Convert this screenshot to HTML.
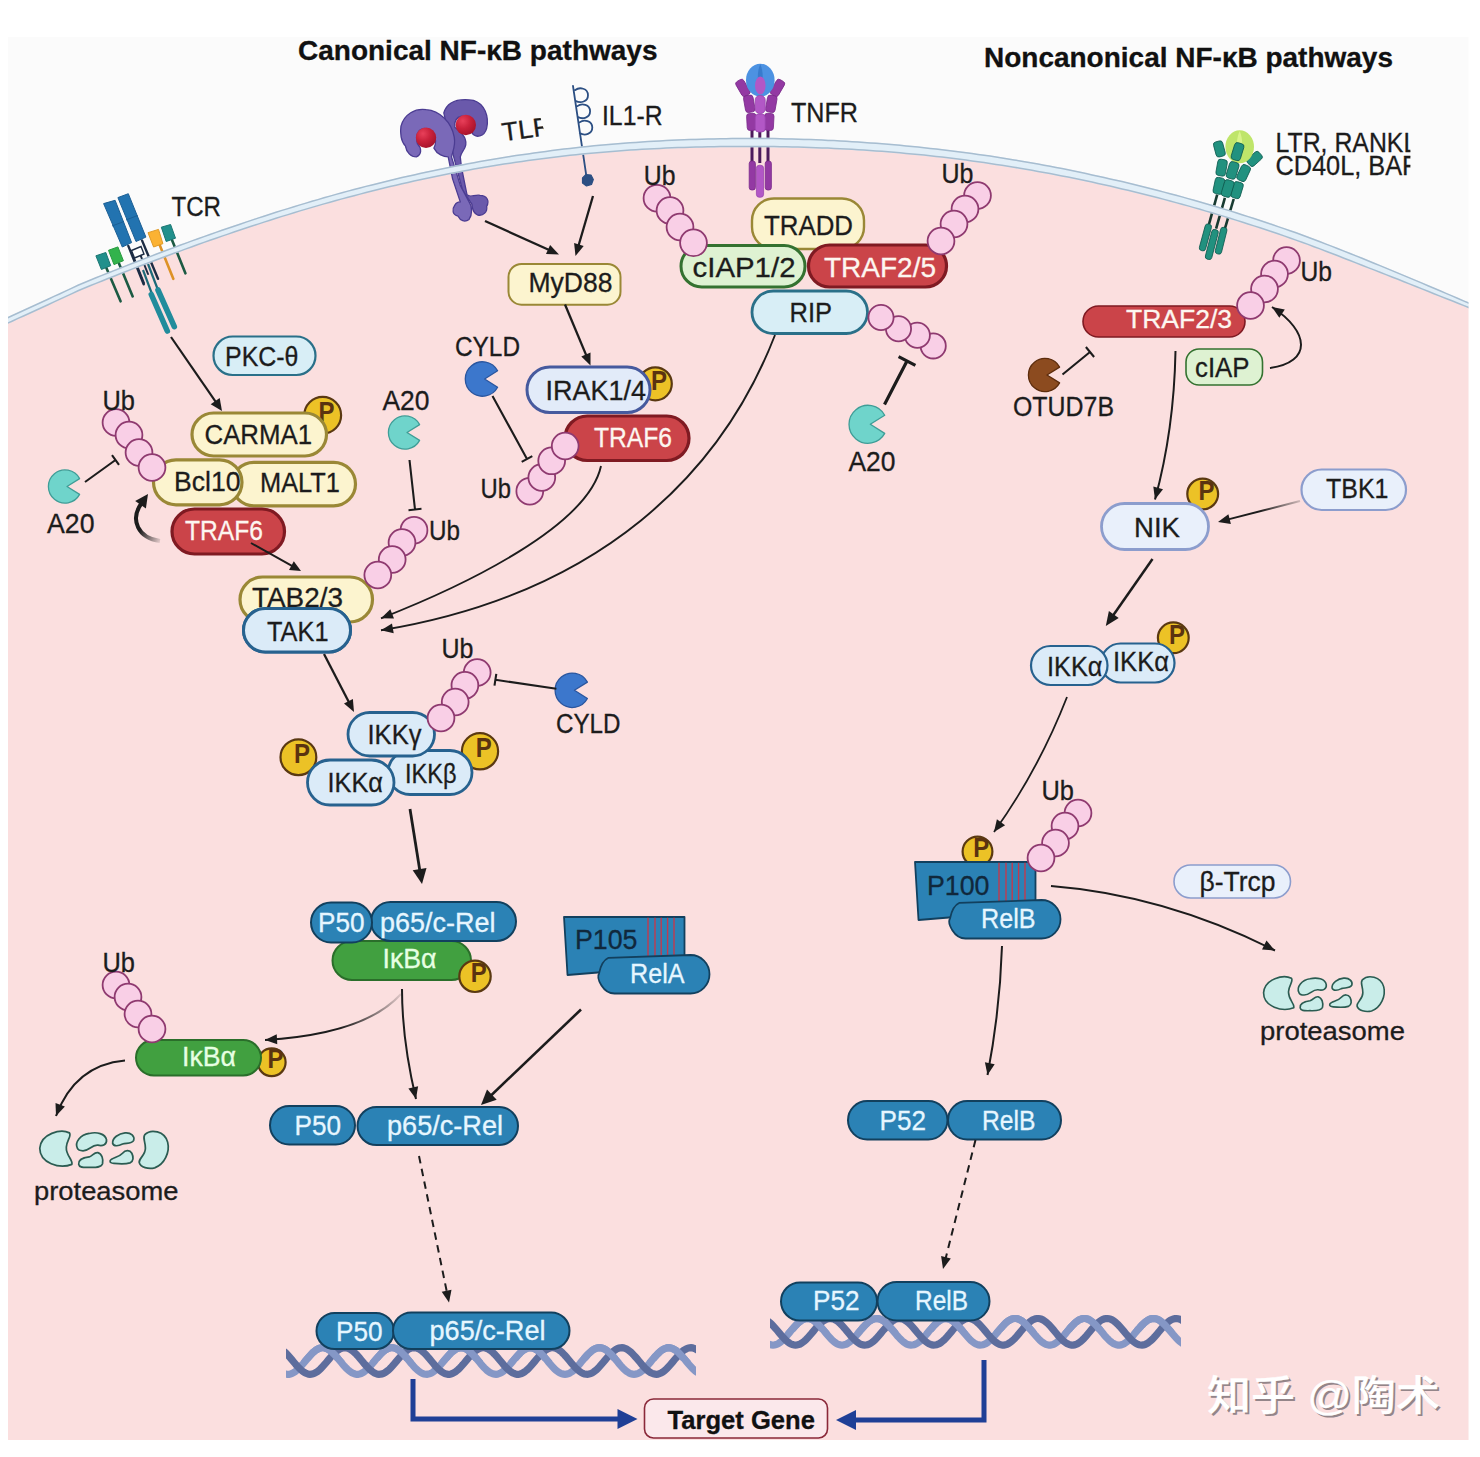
<!DOCTYPE html>
<html lang="en"><head><meta charset="utf-8"><title>NF-κB pathways</title>
<style>
html,body{margin:0;padding:0;background:#fff;}
body{width:1480px;height:1457px;overflow:hidden;}
svg{display:block;font-family:'Liberation Sans', 'Noto Sans CJK SC', sans-serif;}
</style></head><body>
<svg width="1480" height="1457" viewBox="0 0 1480 1457">
<defs>
<clipPath id="fig"><rect x="8" y="37" width="1460.5" height="1403"/></clipPath>
<radialGradient id="redball" cx="0.35" cy="0.3" r="0.75"><stop offset="0" stop-color="#e8405a"/><stop offset="0.5" stop-color="#c9213b"/><stop offset="1" stop-color="#a5122b"/></radialGradient>
<clipPath id="dnaLa"><rect x="286" y="1339.7" width="410" height="42.6"/></clipPath>
<clipPath id="dnaL"><rect x="286" y="1339.7" width="410" height="21.3"/></clipPath>
<clipPath id="dnaRa"><rect x="770" y="1310.5" width="411" height="42.6"/></clipPath>
<clipPath id="dnaR"><rect x="770" y="1310.5" width="411" height="21.3"/></clipPath>
<linearGradient id="fadeL" gradientUnits="userSpaceOnUse" x1="402" y1="992" x2="340" y2="1030"><stop offset="0" stop-color="#1c1c1c" stop-opacity="0.1"/><stop offset="1" stop-color="#1c1c1c"/></linearGradient>
<linearGradient id="fadeT" gradientUnits="userSpaceOnUse" x1="1300" y1="501" x2="1260" y2="511"><stop offset="0" stop-color="#1c1c1c" stop-opacity="0.2"/><stop offset="1" stop-color="#1c1c1c"/></linearGradient>
<linearGradient id="fadeC" gradientUnits="userSpaceOnUse" x1="162" y1="541" x2="140" y2="530"><stop offset="0" stop-color="#1c1c1c" stop-opacity="0.05"/><stop offset="1" stop-color="#1c1c1c"/></linearGradient>
<clipPath id="cTLR"><polygon points="490,100 535.4,100 549.7,150 490,150"/></clipPath>
<clipPath id="cLTR"><rect x="1270" y="120" width="140.4" height="70"/></clipPath>
</defs>
<rect x="8" y="37" width="1460.5" height="1403" fill="#fbfbfb"/>
<g clip-path="url(#fig)">
<path d="M0.0,324.0 L6.0,321.2 L12.0,318.5 L18.0,315.7 L24.0,313.0 L30.0,310.2 L36.0,307.5 L42.0,304.7 L48.0,302.0 L54.0,299.2 L60.0,296.4 L66.0,293.6 L72.0,290.9 L78.0,288.1 L84.0,285.5 L90.0,283.1 L96.0,280.6 L102.0,278.2 L108.0,275.8 L114.0,273.4 L120.0,271.0 L126.0,268.7 L132.0,266.3 L138.0,264.0 L144.0,261.7 L150.0,259.4 L156.0,257.1 L162.0,254.9 L168.0,252.6 L174.0,250.4 L180.0,248.2 L186.0,246.0 L192.0,243.8 L198.0,241.6 L204.0,239.5 L210.0,237.4 L216.0,235.3 L222.0,233.2 L228.0,231.1 L234.0,229.1 L240.0,227.1 L246.0,225.1 L252.0,223.1 L258.0,221.1 L264.0,219.1 L270.0,217.2 L276.0,215.3 L282.0,213.4 L288.0,211.6 L294.0,209.7 L300.0,207.9 L306.0,206.1 L312.0,204.3 L318.0,202.6 L324.0,200.9 L330.0,199.2 L336.0,197.5 L342.0,195.8 L348.0,194.2 L354.0,192.6 L360.0,191.0 L366.0,189.5 L372.0,188.0 L378.0,186.5 L384.0,185.0 L390.0,183.5 L396.0,182.1 L402.0,180.7 L408.0,179.3 L414.0,178.0 L420.0,176.7 L426.0,175.4 L432.0,174.1 L438.0,172.9 L444.0,171.6 L450.0,170.4 L456.0,169.3 L462.0,168.1 L468.0,167.0 L474.0,165.9 L480.0,164.9 L486.0,163.8 L492.0,162.8 L498.0,161.8 L504.0,160.8 L510.0,159.9 L516.0,159.0 L522.0,158.1 L528.0,157.2 L534.0,156.4 L540.0,155.6 L546.0,154.8 L552.0,154.0 L558.0,153.3 L564.0,152.6 L570.0,151.9 L576.0,151.2 L582.0,150.6 L588.0,150.0 L594.0,149.4 L600.0,148.8 L606.0,148.3 L612.0,147.8 L618.0,147.3 L624.0,146.9 L630.0,146.4 L636.0,146.0 L642.0,145.6 L648.0,145.3 L654.0,144.9 L660.0,144.6 L666.0,144.3 L672.0,144.1 L678.0,143.8 L684.0,143.6 L690.0,143.4 L696.0,143.2 L702.0,143.0 L708.0,142.9 L714.0,142.8 L720.0,142.7 L726.0,142.6 L732.0,142.5 L738.0,142.5 L744.0,142.5 L750.0,142.5 L756.0,142.5 L762.0,142.5 L768.0,142.6 L774.0,142.6 L780.0,142.7 L786.0,142.9 L792.0,143.0 L798.0,143.1 L804.0,143.3 L810.0,143.5 L816.0,143.7 L822.0,144.0 L828.0,144.2 L834.0,144.5 L840.0,144.8 L846.0,145.2 L852.0,145.5 L858.0,145.9 L864.0,146.3 L870.0,146.7 L876.0,147.1 L882.0,147.6 L888.0,148.1 L894.0,148.6 L900.0,149.1 L906.0,149.6 L912.0,150.2 L918.0,150.8 L924.0,151.4 L930.0,152.1 L936.0,152.7 L942.0,153.4 L948.0,154.1 L954.0,154.9 L960.0,155.6 L966.0,156.4 L972.0,157.2 L978.0,158.1 L984.0,158.9 L990.0,159.8 L996.0,160.7 L1002.0,161.6 L1008.0,162.6 L1014.0,163.6 L1020.0,164.6 L1026.0,165.6 L1032.0,166.7 L1038.0,167.7 L1044.0,168.8 L1050.0,170.0 L1056.0,171.1 L1062.0,172.3 L1068.0,173.5 L1074.0,174.7 L1080.0,175.9 L1086.0,177.2 L1092.0,178.5 L1098.0,179.8 L1104.0,181.1 L1110.0,182.5 L1116.0,183.9 L1122.0,185.3 L1128.0,186.7 L1134.0,188.1 L1140.0,189.6 L1146.0,191.1 L1152.0,192.6 L1158.0,194.2 L1164.0,195.7 L1170.0,197.3 L1176.0,199.0 L1182.0,200.6 L1188.0,202.3 L1194.0,203.9 L1200.0,205.7 L1206.0,207.4 L1212.0,209.2 L1218.0,210.9 L1224.0,212.8 L1230.0,214.6 L1236.0,216.5 L1242.0,218.3 L1248.0,220.3 L1254.0,222.2 L1260.0,224.2 L1266.0,226.1 L1272.0,228.2 L1278.0,230.2 L1284.0,232.3 L1290.0,234.3 L1296.0,236.4 L1302.0,238.6 L1308.0,240.8 L1314.0,243.1 L1320.0,245.4 L1326.0,247.6 L1332.0,250.0 L1338.0,252.3 L1344.0,254.6 L1350.0,257.0 L1356.0,259.4 L1362.0,261.8 L1368.0,264.1 L1374.0,266.5 L1380.0,268.9 L1386.0,271.3 L1392.0,273.8 L1398.0,276.2 L1404.0,278.6 L1410.0,281.1 L1416.0,283.6 L1422.0,286.0 L1428.0,288.5 L1434.0,291.0 L1440.0,293.4 L1446.0,295.9 L1452.0,298.4 L1458.0,300.9 L1464.0,303.3 L1470.0,305.8 L1476.0,308.3 L1480.0,310.0 L1480,1460 L0,1460 Z" fill="#fbdfdf"/>
<line x1="106.4" y1="267.9" x2="120.6" y2="301.3" stroke="#1c5a43" stroke-width="2.6" stroke-linecap="round"/>
<line x1="119.0" y1="263.5" x2="132.7" y2="296.4" stroke="#1c5a43" stroke-width="2.6" stroke-linecap="round"/>
<line x1="159.6" y1="244.8" x2="173.3" y2="278.8" stroke="#dd9227" stroke-width="2.6" stroke-linecap="round"/>
<line x1="172.2" y1="240.4" x2="185.4" y2="273.3" stroke="#1c5a43" stroke-width="2.6" stroke-linecap="round"/>
<line x1="128.3" y1="245.9" x2="143.7" y2="284.3" stroke="#1d2d45" stroke-width="2.4" stroke-linecap="round"/>
<line x1="142.0" y1="240.4" x2="158.0" y2="278.8" stroke="#1d2d45" stroke-width="2.4" stroke-linecap="round"/>
<line x1="134.0" y1="258.0" x2="144.0" y2="283.0" stroke="#1d2d45" stroke-width="2.0" stroke-linecap="round"/>
<line x1="140.0" y1="254.0" x2="148.0" y2="274.0" stroke="#1d2d45" stroke-width="2.0" stroke-linecap="round"/>
<line x1="143.0" y1="270.0" x2="152.0" y2="294.0" stroke="#1d6a78" stroke-width="2.2" stroke-linecap="butt"/>
<line x1="148.0" y1="264.0" x2="158.0" y2="290.0" stroke="#1d6a78" stroke-width="2.2" stroke-linecap="butt"/>
<polygon points="131.5,250.5 141,246.5 144,254 134.5,258" fill="#fff" stroke="#1d2d45" stroke-width="1.4"/>
<polygon points="103.6,203.6 115.1,200.3 131.6,242.6 122.3,247.0" fill="#2273b0" stroke="#1b5f95" stroke-width="1" stroke-linejoin="round"/>
<polygon points="117.9,197.6 128.3,193.7 145.9,237.1 136.0,241.5" fill="#2273b0" stroke="#1b5f95" stroke-width="1" stroke-linejoin="round"/>
<line x1="112.0" y1="226.0" x2="124.0" y2="221.5" stroke="#1b5f95" stroke-width="1" stroke-linecap="butt"/>
<line x1="126.0" y1="220.0" x2="137.5" y2="215.5" stroke="#1b5f95" stroke-width="1" stroke-linecap="butt"/>
<polygon points="148.0,232.7 158.5,229.4 162.9,243.7 153.6,247.0" fill="#fbb233" stroke="#e09a25" stroke-width="1" stroke-linejoin="round"/>
<polygon points="161.3,227.2 170.6,224.5 175.5,238.2 166.2,241.5" fill="#21908c" stroke="#1a7672" stroke-width="1" stroke-linejoin="round"/>
<polygon points="95.9,255.8 105.8,252.5 110.7,265.7 101.4,269.5" fill="#21908c" stroke="#1a7672" stroke-width="1" stroke-linejoin="round"/>
<polygon points="108.5,250.3 117.9,246.9 123.4,260.7 114.0,264.6" fill="#32b34c" stroke="#289a3f" stroke-width="1" stroke-linejoin="round"/>
<line x1="151.3" y1="294.5" x2="167.3" y2="331.0" stroke="#218c9c" stroke-width="5.6" stroke-linecap="round"/>
<line x1="158.0" y1="290.0" x2="174.3" y2="326.6" stroke="#218c9c" stroke-width="5.6" stroke-linecap="round"/>
<g transform="translate(390,80) scale(0.10982)" stroke="#4b3c92" stroke-width="12" stroke-linejoin="round">
<path d="M490,300 C520,200 620,165 760,185 C860,215 905,330 880,440 C860,515 780,535 745,480 C770,400 730,330 650,330 C600,340 585,380 590,430 C640,470 700,520 690,590 C680,640 650,650 640,700 L650,790 L700,1040 C720,1080 770,1040 820,1050 C880,1050 910,1100 880,1150 C890,1200 850,1240 800,1230 C770,1220 750,1180 745,1130 L660,1000 L580,700 Z" fill="#6a59ab"/>
<path d="M100,420 C130,310 230,255 330,270 C450,280 560,380 585,520 C600,600 570,650 560,700 L640,960 L720,1110 C750,1150 750,1230 720,1270 C680,1300 640,1280 620,1240 C570,1230 560,1180 590,1140 C600,1120 620,1110 640,1110 L570,900 L530,700 C490,700 430,680 400,620 C440,540 390,440 310,440 C250,450 230,510 250,580 C290,620 290,680 240,700 C190,700 150,660 140,600 C100,560 90,480 100,420 Z" fill="#7a69b8"/>
</g>
<circle cx="426" cy="137.7" r="10.2" fill="url(#redball)"/>
<circle cx="465.8" cy="125" r="10.2" fill="url(#redball)"/>
<path d="M573,86 L586.5,177 M575.3,90.0 C579.5,86.7 588.0,88.2 588.0,95.2 C588.0,101.7 580.5,103.7 575.5,100.7 M577.4,106.1 C581.6,102.8 590.1,104.3 590.1,111.3 C590.1,117.8 582.6,119.8 577.6,116.8 M579.6,122.4 C583.8,119.1 592.3,120.6 592.3,127.6 C592.3,134.1 584.8,136.1 579.8,133.1" stroke="#2c4f83" stroke-width="1.8" fill="none" stroke-linecap="round"/>
<path d="M582.5,178 L586,174.5 L591,175 L593.3,179.5 L591.5,184.5 L586.5,186 L582.5,183 Z" fill="#2c4f83" stroke="#2c4f83" stroke-width="1.2" stroke-linejoin="round"/>
<line x1="752.0" y1="130.0" x2="752.0" y2="163.0" stroke="#4c1b5c" stroke-width="3.0" stroke-linecap="butt"/>
<line x1="759.8" y1="130.0" x2="759.8" y2="163.0" stroke="#4c1b5c" stroke-width="3.0" stroke-linecap="butt"/>
<line x1="768.0" y1="130.0" x2="768.0" y2="163.0" stroke="#4c1b5c" stroke-width="3.0" stroke-linecap="butt"/>
<rect x="738.4" y="79.4" width="9.0" height="17.0" rx="2.7" fill="#9339a3" stroke="#7a2a8a" stroke-width="0.8" transform="rotate(-30 742.9 87.9)"/>
<rect x="773.0" y="79.4" width="9.0" height="17.0" rx="2.7" fill="#9339a3" stroke="#7a2a8a" stroke-width="0.8" transform="rotate(30 777.5 87.9)"/>
<ellipse cx="760.3" cy="80.2" rx="14.3" ry="16.5" fill="#4c92e2"/>
<path d="M760.3,64 C757,72 757,80 760.3,86 C763.5,80 763.5,72 760.3,64" fill="#2f72c4" opacity="0.7"/>
<ellipse cx="760.3" cy="85.5" rx="5.3" ry="9" fill="#b257c6"/>
<rect x="744.5" y="95.3" width="9.6" height="17.0" rx="2.9" fill="#9339a3" stroke="#7a2a8a" stroke-width="0.8" transform="rotate(-10 749.3 103.8)"/>
<rect x="766.5" y="95.3" width="9.6" height="17.0" rx="2.9" fill="#9339a3" stroke="#7a2a8a" stroke-width="0.8" transform="rotate(10 771.3 103.8)"/>
<rect x="755.2" y="95.5" width="10.0" height="18.0" rx="4.5" fill="#b257c6" stroke="#9a45ae" stroke-width="0.8" transform="rotate(0 760.2 104.5)"/>
<rect x="746.9" y="113.4" width="9.4" height="17.0" rx="2.8" fill="#9339a3" stroke="#7a2a8a" stroke-width="0.8" transform="rotate(-3 751.6 121.9)"/>
<rect x="764.3" y="113.4" width="9.4" height="17.0" rx="2.8" fill="#9339a3" stroke="#7a2a8a" stroke-width="0.8" transform="rotate(3 769.0 121.9)"/>
<rect x="755.2" y="114.0" width="10.0" height="18.0" rx="3.5" fill="#b257c6" stroke="#9a45ae" stroke-width="0.8" transform="rotate(0 760.2 123.0)"/>
<rect x="749.2" y="161.0" width="6.2" height="29.0" rx="2.6" fill="#9339a3" stroke="#7a2a8a" stroke-width="0.8" transform="rotate(0 752.3 175.5)"/>
<rect x="765.2" y="161.0" width="6.2" height="29.0" rx="2.6" fill="#9339a3" stroke="#7a2a8a" stroke-width="0.8" transform="rotate(0 768.3 175.5)"/>
<rect x="756.4" y="165.3" width="7.2" height="32.0" rx="3.0" fill="#b257c6" stroke="#9a45ae" stroke-width="0.8" transform="rotate(0 760.0 181.3)"/>
<line x1="1217.2" y1="194.6" x2="1209.0" y2="224.2" stroke="#183a31" stroke-width="2.6" stroke-linecap="butt"/>
<line x1="1224.9" y1="197.9" x2="1216.1" y2="228.6" stroke="#183a31" stroke-width="2.6" stroke-linecap="butt"/>
<line x1="1233.7" y1="199.0" x2="1224.9" y2="228.6" stroke="#183a31" stroke-width="2.6" stroke-linecap="butt"/>
<rect x="1214.7" y="141.2" width="9.4" height="15.5" rx="2.8" fill="#21917f" stroke="#0f5c50" stroke-width="0.8" transform="rotate(-15 1219.4 149.0)"/>
<rect x="1249.9" y="151.2" width="9.4" height="15.5" rx="2.8" fill="#21917f" stroke="#0f5c50" stroke-width="0.8" transform="rotate(48 1254.6 158.9)"/>
<ellipse cx="1239.7" cy="146.8" rx="14.3" ry="16.5" fill="#bfe56a"/>
<path d="M1239.7,131 C1236,139 1236,148 1239.7,155 C1243,148 1243,139 1239.7,131" fill="#dcf58e" opacity="0.9"/>
<rect x="1232.7" y="142.9" width="9.6" height="17.5" rx="2.9" fill="#21917f" stroke="#0f5c50" stroke-width="0.8" transform="rotate(17 1237.5 151.7)"/>
<rect x="1216.8" y="159.4" width="9.6" height="16.5" rx="2.9" fill="#21917f" stroke="#0f5c50" stroke-width="0.8" transform="rotate(10 1221.6 167.7)"/>
<rect x="1238.8" y="164.8" width="9.6" height="16.5" rx="2.9" fill="#21917f" stroke="#0f5c50" stroke-width="0.8" transform="rotate(25 1243.6 173.1)"/>
<rect x="1227.7" y="161.9" width="9.8" height="17.0" rx="2.9" fill="#21917f" stroke="#0f5c50" stroke-width="0.8" transform="rotate(17 1232.6 170.4)"/>
<rect x="1214.1" y="177.6" width="9.6" height="16.5" rx="2.9" fill="#21917f" stroke="#0f5c50" stroke-width="0.8" transform="rotate(12 1218.9 185.8)"/>
<rect x="1232.2" y="181.9" width="9.6" height="16.5" rx="2.9" fill="#21917f" stroke="#0f5c50" stroke-width="0.8" transform="rotate(17 1237.0 190.2)"/>
<rect x="1222.8" y="180.0" width="9.8" height="17.0" rx="2.9" fill="#21917f" stroke="#0f5c50" stroke-width="0.8" transform="rotate(17 1227.7 188.5)"/>
<rect x="1202.2" y="223.7" width="6.4" height="27.4" rx="2.6" fill="#21917f" stroke="#0f5c50" stroke-width="0.8" transform="rotate(15.255118703057875 1205.4 237.4)"/>
<rect x="1217.9" y="227.1" width="6.4" height="27.2" rx="2.6" fill="#21917f" stroke="#0f5c50" stroke-width="0.8" transform="rotate(14.036243467926766 1221.1 240.7)"/>
<rect x="1208.5" y="229.2" width="6.6" height="30.6" rx="2.6" fill="#21917f" stroke="#0f5c50" stroke-width="0.8" transform="rotate(14.581468369319595 1211.8 244.5)"/>
<path d="M0.0,320.8 L6.0,318.0 L12.0,315.3 L18.0,312.5 L24.0,309.8 L30.0,307.0 L36.0,304.3 L42.0,301.5 L48.0,298.7 L54.0,295.9 L60.0,293.1 L66.0,290.4 L72.0,287.6 L78.0,284.8 L84.0,282.2 L90.0,279.8 L96.0,277.3 L102.0,274.9 L108.0,272.4 L114.0,270.1 L120.0,267.7 L126.0,265.3 L132.0,263.0 L138.0,260.7 L144.0,258.3 L150.0,256.0 L156.0,253.8 L162.0,251.5 L168.0,249.2 L174.0,247.0 L180.0,244.8 L186.0,242.6 L192.0,240.4 L198.0,238.2 L204.0,236.1 L210.0,233.9 L216.0,231.8 L222.0,229.7 L228.0,227.7 L234.0,225.6 L240.0,223.6 L246.0,221.6 L252.0,219.6 L258.0,217.6 L264.0,215.6 L270.0,213.7 L276.0,211.8 L282.0,209.9 L288.0,208.0 L294.0,206.2 L300.0,204.4 L306.0,202.5 L312.0,200.8 L318.0,199.0 L324.0,197.3 L330.0,195.5 L336.0,193.9 L342.0,192.2 L348.0,190.6 L354.0,189.0 L360.0,187.4 L366.0,185.8 L372.0,184.3 L378.0,182.8 L384.0,181.3 L390.0,179.8 L396.0,178.4 L402.0,177.0 L408.0,175.6 L414.0,174.3 L420.0,172.9 L426.0,171.6 L432.0,170.4 L438.0,169.1 L444.0,167.9 L450.0,166.7 L456.0,165.5 L462.0,164.3 L468.0,163.2 L474.0,162.1 L480.0,161.0 L486.0,160.0 L492.0,158.9 L498.0,157.9 L504.0,156.9 L510.0,156.0 L516.0,155.0 L522.0,154.1 L528.0,153.2 L534.0,152.4 L540.0,151.5 L546.0,150.7 L552.0,149.9 L558.0,149.2 L564.0,148.4 L570.0,147.7 L576.0,147.1 L582.0,146.4 L588.0,145.8 L594.0,145.2 L600.0,144.6 L606.0,144.0 L612.0,143.5 L618.0,143.0 L624.0,142.5 L630.0,142.1 L636.0,141.7 L642.0,141.3 L648.0,140.9 L654.0,140.5 L660.0,140.2 L666.0,139.9 L672.0,139.6 L678.0,139.3 L684.0,139.1 L690.0,138.8 L696.0,138.6 L702.0,138.4 L708.0,138.3 L714.0,138.1 L720.0,138.0 L726.0,137.9 L732.0,137.8 L738.0,137.8 L744.0,137.7 L750.0,137.7 L756.0,137.7 L762.0,137.7 L768.0,137.8 L774.0,137.9 L780.0,138.0 L786.0,138.1 L792.0,138.3 L798.0,138.4 L804.0,138.6 L810.0,138.8 L816.0,139.1 L822.0,139.3 L828.0,139.6 L834.0,139.9 L840.0,140.2 L846.0,140.6 L852.0,140.9 L858.0,141.3 L864.0,141.7 L870.0,142.2 L876.0,142.6 L882.0,143.1 L888.0,143.6 L894.0,144.1 L900.0,144.6 L906.0,145.2 L912.0,145.8 L918.0,146.4 L924.0,147.0 L930.0,147.7 L936.0,148.3 L942.0,149.0 L948.0,149.8 L954.0,150.5 L960.0,151.3 L966.0,152.1 L972.0,152.9 L978.0,153.7 L984.0,154.6 L990.0,155.4 L996.0,156.4 L1002.0,157.3 L1008.0,158.2 L1014.0,159.2 L1020.0,160.2 L1026.0,161.3 L1032.0,162.3 L1038.0,163.4 L1044.0,164.5 L1050.0,165.6 L1056.0,166.8 L1062.0,167.9 L1068.0,169.1 L1074.0,170.4 L1080.0,171.6 L1086.0,172.9 L1092.0,174.2 L1098.0,175.5 L1104.0,176.8 L1110.0,178.2 L1116.0,179.5 L1122.0,180.9 L1128.0,182.4 L1134.0,183.8 L1140.0,185.3 L1146.0,186.8 L1152.0,188.3 L1158.0,189.8 L1164.0,191.4 L1170.0,193.0 L1176.0,194.6 L1182.0,196.2 L1188.0,197.9 L1194.0,199.6 L1200.0,201.3 L1206.0,203.0 L1212.0,204.8 L1218.0,206.6 L1224.0,208.4 L1230.0,210.2 L1236.0,212.1 L1242.0,214.0 L1248.0,215.9 L1254.0,217.8 L1260.0,219.8 L1266.0,221.8 L1272.0,223.8 L1278.0,225.9 L1284.0,227.9 L1290.0,230.0 L1296.0,232.1 L1302.0,234.3 L1308.0,236.6 L1314.0,238.8 L1320.0,241.1 L1326.0,243.4 L1332.0,245.7 L1338.0,248.1 L1344.0,250.5 L1350.0,252.8 L1356.0,255.2 L1362.0,257.6 L1368.0,260.1 L1374.0,262.5 L1380.0,265.0 L1386.0,267.5 L1392.0,270.0 L1398.0,272.5 L1404.0,275.0 L1410.0,277.5 L1416.0,280.0 L1422.0,282.6 L1428.0,285.1 L1434.0,287.7 L1440.0,290.3 L1446.0,292.9 L1452.0,295.5 L1458.0,298.1 L1464.0,300.6 L1470.0,303.2 L1476.0,305.8 L1480.0,307.5 L1480.0,312.5 L1476.0,310.9 L1470.0,308.4 L1464.0,306.1 L1458.0,303.7 L1452.0,301.3 L1446.0,298.9 L1440.0,296.6 L1434.0,294.2 L1428.0,291.8 L1422.0,289.5 L1416.0,287.1 L1410.0,284.7 L1404.0,282.3 L1398.0,279.9 L1392.0,277.6 L1386.0,275.2 L1380.0,272.9 L1374.0,270.5 L1368.0,268.2 L1362.0,265.9 L1356.0,263.5 L1350.0,261.2 L1344.0,258.8 L1338.0,256.5 L1332.0,254.2 L1326.0,251.9 L1320.0,249.6 L1314.0,247.3 L1308.0,245.1 L1302.0,242.9 L1296.0,240.7 L1290.0,238.6 L1284.0,236.6 L1278.0,234.5 L1272.0,232.5 L1266.0,230.5 L1260.0,228.5 L1254.0,226.6 L1248.0,224.7 L1242.0,222.7 L1236.0,220.9 L1230.0,219.0 L1224.0,217.1 L1218.0,215.3 L1212.0,213.5 L1206.0,211.8 L1200.0,210.0 L1194.0,208.3 L1188.0,206.6 L1182.0,205.0 L1176.0,203.3 L1170.0,201.7 L1164.0,200.1 L1158.0,198.5 L1152.0,197.0 L1146.0,195.4 L1140.0,193.9 L1134.0,192.5 L1128.0,191.0 L1122.0,189.6 L1116.0,188.2 L1110.0,186.8 L1104.0,185.4 L1098.0,184.1 L1092.0,182.8 L1086.0,181.5 L1080.0,180.2 L1074.0,179.0 L1068.0,177.8 L1062.0,176.6 L1056.0,175.4 L1050.0,174.3 L1044.0,173.2 L1038.0,172.1 L1032.0,171.0 L1026.0,169.9 L1020.0,168.9 L1014.0,167.9 L1008.0,167.0 L1002.0,166.0 L996.0,165.1 L990.0,164.2 L984.0,163.3 L978.0,162.4 L972.0,161.6 L966.0,160.8 L960.0,160.0 L954.0,159.3 L948.0,158.5 L942.0,157.8 L936.0,157.1 L930.0,156.5 L924.0,155.8 L918.0,155.2 L912.0,154.6 L906.0,154.1 L900.0,153.5 L894.0,153.0 L888.0,152.5 L882.0,152.1 L876.0,151.6 L870.0,151.2 L864.0,150.8 L858.0,150.4 L852.0,150.1 L846.0,149.7 L840.0,149.4 L834.0,149.1 L828.0,148.9 L822.0,148.6 L816.0,148.4 L810.0,148.2 L804.0,148.0 L798.0,147.8 L792.0,147.7 L786.0,147.6 L780.0,147.5 L774.0,147.4 L768.0,147.3 L762.0,147.3 L756.0,147.3 L750.0,147.2 L744.0,147.2 L738.0,147.2 L732.0,147.2 L726.0,147.3 L720.0,147.3 L714.0,147.4 L708.0,147.5 L702.0,147.6 L696.0,147.8 L690.0,147.9 L684.0,148.1 L678.0,148.3 L672.0,148.6 L666.0,148.8 L660.0,149.1 L654.0,149.4 L648.0,149.7 L642.0,150.0 L636.0,150.4 L630.0,150.8 L624.0,151.2 L618.0,151.6 L612.0,152.1 L606.0,152.6 L600.0,153.1 L594.0,153.6 L588.0,154.2 L582.0,154.7 L576.0,155.4 L570.0,156.0 L564.0,156.7 L558.0,157.4 L552.0,158.1 L546.0,158.8 L540.0,159.6 L534.0,160.4 L528.0,161.2 L522.0,162.0 L516.0,162.9 L510.0,163.8 L504.0,164.7 L498.0,165.7 L492.0,166.7 L486.0,167.7 L480.0,168.7 L474.0,169.7 L468.0,170.8 L462.0,171.9 L456.0,173.1 L450.0,174.2 L444.0,175.4 L438.0,176.6 L432.0,177.9 L426.0,179.1 L420.0,180.4 L414.0,181.7 L408.0,183.1 L402.0,184.4 L396.0,185.8 L390.0,187.2 L384.0,188.7 L378.0,190.1 L372.0,191.6 L366.0,193.1 L360.0,194.7 L354.0,196.3 L348.0,197.8 L342.0,199.5 L336.0,201.1 L330.0,202.8 L324.0,204.5 L318.0,206.2 L312.0,207.9 L306.0,209.7 L300.0,211.5 L294.0,213.3 L288.0,215.1 L282.0,217.0 L276.0,218.9 L270.0,220.8 L264.0,222.7 L258.0,224.6 L252.0,226.6 L246.0,228.6 L240.0,230.6 L234.0,232.6 L228.0,234.6 L222.0,236.7 L216.0,238.7 L210.0,240.8 L204.0,243.0 L198.0,245.1 L192.0,247.2 L186.0,249.4 L180.0,251.6 L174.0,253.8 L168.0,256.0 L162.0,258.3 L156.0,260.5 L150.0,262.8 L144.0,265.1 L138.0,267.4 L132.0,269.7 L126.0,272.0 L120.0,274.4 L114.0,276.7 L108.0,279.1 L102.0,281.5 L96.0,283.9 L90.0,286.4 L84.0,288.8 L78.0,291.4 L72.0,294.1 L66.0,296.9 L60.0,299.7 L54.0,302.4 L48.0,305.2 L42.0,308.0 L36.0,310.7 L30.0,313.5 L24.0,316.2 L18.0,319.0 L12.0,321.7 L6.0,324.4 L0.0,327.2 Z" fill="#e2eff8"/>
<path d="M0.0,321.3 L6.0,318.5 L12.0,315.8 L18.0,313.0 L24.0,310.3 L30.0,307.5 L36.0,304.8 L42.0,302.0 L48.0,299.2 L54.0,296.4 L60.0,293.7 L66.0,290.9 L72.0,288.1 L78.0,285.3 L84.0,282.8 L90.0,280.3 L96.0,277.8 L102.0,275.4 L108.0,273.0 L114.0,270.6 L120.0,268.2 L126.0,265.9 L132.0,263.5 L138.0,261.2 L144.0,258.9 L150.0,256.6 L156.0,254.3 L162.0,252.0 L168.0,249.8 L174.0,247.6 L180.0,245.3 L186.0,243.1 L192.0,240.9 L198.0,238.8 L204.0,236.6 L210.0,234.5 L216.0,232.4 L222.0,230.3 L228.0,228.2 L234.0,226.2 L240.0,224.2 L246.0,222.1 L252.0,220.1 L258.0,218.1 L264.0,216.2 L270.0,214.2 L276.0,212.3 L282.0,210.4 L288.0,208.6 L294.0,206.7 L300.0,204.9 L306.0,203.1 L312.0,201.3 L318.0,199.6 L324.0,197.8 L330.0,196.1 L336.0,194.4 L342.0,192.8 L348.0,191.1 L354.0,189.5 L360.0,188.0 L366.0,186.4 L372.0,184.9 L378.0,183.4 L384.0,181.9 L390.0,180.4 L396.0,179.0 L402.0,177.6 L408.0,176.2 L414.0,174.9 L420.0,173.5 L426.0,172.2 L432.0,171.0 L438.0,169.7 L444.0,168.5 L450.0,167.3 L456.0,166.1 L462.0,164.9 L468.0,163.8 L474.0,162.7 L480.0,161.6 L486.0,160.6 L492.0,159.5 L498.0,158.5 L504.0,157.5 L510.0,156.6 L516.0,155.6 L522.0,154.7 L528.0,153.9 L534.0,153.0 L540.0,152.2 L546.0,151.4 L552.0,150.6 L558.0,149.8 L564.0,149.1 L570.0,148.4 L576.0,147.7 L582.0,147.1 L588.0,146.4 L594.0,145.8 L600.0,145.3 L606.0,144.7 L612.0,144.2 L618.0,143.7 L624.0,143.2 L630.0,142.8 L636.0,142.4 L642.0,142.0 L648.0,141.6 L654.0,141.2 L660.0,140.9 L666.0,140.6 L672.0,140.3 L678.0,140.0 L684.0,139.8 L690.0,139.6 L696.0,139.4 L702.0,139.2 L708.0,139.0 L714.0,138.9 L720.0,138.8 L726.0,138.7 L732.0,138.6 L738.0,138.5 L744.0,138.5 L750.0,138.5 L756.0,138.5 L762.0,138.5 L768.0,138.5 L774.0,138.6 L780.0,138.7 L786.0,138.9 L792.0,139.0 L798.0,139.2 L804.0,139.4 L810.0,139.6 L816.0,139.8 L822.0,140.1 L828.0,140.4 L834.0,140.6 L840.0,141.0 L846.0,141.3 L852.0,141.7 L858.0,142.0 L864.0,142.4 L870.0,142.9 L876.0,143.3 L882.0,143.8 L888.0,144.3 L894.0,144.8 L900.0,145.3 L906.0,145.9 L912.0,146.5 L918.0,147.1 L924.0,147.7 L930.0,148.4 L936.0,149.0 L942.0,149.7 L948.0,150.5 L954.0,151.2 L960.0,152.0 L966.0,152.8 L972.0,153.6 L978.0,154.4 L984.0,155.3 L990.0,156.1 L996.0,157.1 L1002.0,158.0 L1008.0,158.9 L1014.0,159.9 L1020.0,160.9 L1026.0,162.0 L1032.0,163.0 L1038.0,164.1 L1044.0,165.2 L1050.0,166.3 L1056.0,167.5 L1062.0,168.6 L1068.0,169.8 L1074.0,171.1 L1080.0,172.3 L1086.0,173.6 L1092.0,174.9 L1098.0,176.2 L1104.0,177.5 L1110.0,178.9 L1116.0,180.2 L1122.0,181.6 L1128.0,183.1 L1134.0,184.5 L1140.0,186.0 L1146.0,187.5 L1152.0,189.0 L1158.0,190.5 L1164.0,192.1 L1170.0,193.7 L1176.0,195.3 L1182.0,196.9 L1188.0,198.6 L1194.0,200.3 L1200.0,202.0 L1206.0,203.7 L1212.0,205.5 L1218.0,207.3 L1224.0,209.1 L1230.0,210.9 L1236.0,212.8 L1242.0,214.7 L1248.0,216.6 L1254.0,218.5 L1260.0,220.5 L1266.0,222.5 L1272.0,224.5 L1278.0,226.6 L1284.0,228.6 L1290.0,230.7 L1296.0,232.8 L1302.0,235.0 L1308.0,237.2 L1314.0,239.5 L1320.0,241.8 L1326.0,244.1 L1332.0,246.4 L1338.0,248.8 L1344.0,251.1 L1350.0,253.5 L1356.0,255.9 L1362.0,258.3 L1368.0,260.7 L1374.0,263.2 L1380.0,265.6 L1386.0,268.1 L1392.0,270.6 L1398.0,273.1 L1404.0,275.6 L1410.0,278.1 L1416.0,280.6 L1422.0,283.1 L1428.0,285.7 L1434.0,288.2 L1440.0,290.8 L1446.0,293.4 L1452.0,295.9 L1458.0,298.5 L1464.0,301.1 L1470.0,303.6 L1476.0,306.2 L1480.0,307.9" stroke="#a7bdd0" stroke-width="1.5" fill="none"/>
<path d="M0.0,326.7 L6.0,323.9 L12.0,321.2 L18.0,318.4 L24.0,315.7 L30.0,313.0 L36.0,310.2 L42.0,307.5 L48.0,304.7 L54.0,301.9 L60.0,299.1 L66.0,296.4 L72.0,293.6 L78.0,290.8 L84.0,288.3 L90.0,285.8 L96.0,283.4 L102.0,281.0 L108.0,278.5 L114.0,276.2 L120.0,273.8 L126.0,271.5 L132.0,269.1 L138.0,266.8 L144.0,264.5 L150.0,262.3 L156.0,260.0 L162.0,257.7 L168.0,255.5 L174.0,253.3 L180.0,251.1 L186.0,248.9 L192.0,246.7 L198.0,244.5 L204.0,242.4 L210.0,240.3 L216.0,238.2 L222.0,236.1 L228.0,234.1 L234.0,232.0 L240.0,230.0 L246.0,228.0 L252.0,226.0 L258.0,224.1 L264.0,222.1 L270.0,220.2 L276.0,218.3 L282.0,216.4 L288.0,214.6 L294.0,212.7 L300.0,210.9 L306.0,209.1 L312.0,207.4 L318.0,205.6 L324.0,203.9 L330.0,202.2 L336.0,200.5 L342.0,198.9 L348.0,197.3 L354.0,195.7 L360.0,194.1 L366.0,192.6 L372.0,191.0 L378.0,189.5 L384.0,188.1 L390.0,186.6 L396.0,185.2 L402.0,183.8 L408.0,182.5 L414.0,181.1 L420.0,179.8 L426.0,178.5 L432.0,177.3 L438.0,176.0 L444.0,174.8 L450.0,173.6 L456.0,172.5 L462.0,171.3 L468.0,170.2 L474.0,169.1 L480.0,168.1 L486.0,167.0 L492.0,166.0 L498.0,165.1 L504.0,164.1 L510.0,163.2 L516.0,162.3 L522.0,161.4 L528.0,160.6 L534.0,159.7 L540.0,158.9 L546.0,158.2 L552.0,157.4 L558.0,156.7 L564.0,156.0 L570.0,155.3 L576.0,154.7 L582.0,154.1 L588.0,153.5 L594.0,152.9 L600.0,152.4 L606.0,151.9 L612.0,151.4 L618.0,150.9 L624.0,150.5 L630.0,150.1 L636.0,149.7 L642.0,149.3 L648.0,149.0 L654.0,148.7 L660.0,148.4 L666.0,148.1 L672.0,147.8 L678.0,147.6 L684.0,147.4 L690.0,147.2 L696.0,147.0 L702.0,146.9 L708.0,146.8 L714.0,146.7 L720.0,146.6 L726.0,146.5 L732.0,146.5 L738.0,146.4 L744.0,146.4 L750.0,146.5 L756.0,146.5 L762.0,146.5 L768.0,146.6 L774.0,146.6 L780.0,146.7 L786.0,146.8 L792.0,147.0 L798.0,147.1 L804.0,147.3 L810.0,147.4 L816.0,147.7 L822.0,147.9 L828.0,148.1 L834.0,148.4 L840.0,148.7 L846.0,149.0 L852.0,149.3 L858.0,149.7 L864.0,150.1 L870.0,150.5 L876.0,150.9 L882.0,151.3 L888.0,151.8 L894.0,152.3 L900.0,152.8 L906.0,153.4 L912.0,153.9 L918.0,154.5 L924.0,155.1 L930.0,155.8 L936.0,156.4 L942.0,157.1 L948.0,157.8 L954.0,158.6 L960.0,159.3 L966.0,160.1 L972.0,160.9 L978.0,161.7 L984.0,162.6 L990.0,163.5 L996.0,164.4 L1002.0,165.3 L1008.0,166.3 L1014.0,167.2 L1020.0,168.2 L1026.0,169.3 L1032.0,170.3 L1038.0,171.4 L1044.0,172.5 L1050.0,173.6 L1056.0,174.7 L1062.0,175.9 L1068.0,177.1 L1074.0,178.3 L1080.0,179.5 L1086.0,180.8 L1092.0,182.1 L1098.0,183.4 L1104.0,184.7 L1110.0,186.1 L1116.0,187.5 L1122.0,188.9 L1128.0,190.3 L1134.0,191.8 L1140.0,193.3 L1146.0,194.8 L1152.0,196.3 L1158.0,197.8 L1164.0,199.4 L1170.0,201.0 L1176.0,202.6 L1182.0,204.3 L1188.0,205.9 L1194.0,207.6 L1200.0,209.3 L1206.0,211.1 L1212.0,212.8 L1218.0,214.6 L1224.0,216.4 L1230.0,218.3 L1236.0,220.1 L1242.0,222.0 L1248.0,224.0 L1254.0,225.9 L1260.0,227.8 L1266.0,229.8 L1272.0,231.8 L1278.0,233.8 L1284.0,235.9 L1290.0,238.0 L1296.0,240.1 L1302.0,242.2 L1308.0,244.4 L1314.0,246.7 L1320.0,248.9 L1326.0,251.2 L1332.0,253.5 L1338.0,255.8 L1344.0,258.2 L1350.0,260.5 L1356.0,262.9 L1362.0,265.2 L1368.0,267.6 L1374.0,269.9 L1380.0,272.2 L1386.0,274.6 L1392.0,277.0 L1398.0,279.3 L1404.0,281.7 L1410.0,284.1 L1416.0,286.5 L1422.0,288.9 L1428.0,291.3 L1434.0,293.7 L1440.0,296.1 L1446.0,298.5 L1452.0,300.8 L1458.0,303.2 L1464.0,305.6 L1470.0,308.0 L1476.0,310.4 L1480.0,312.1" stroke="#a7bdd0" stroke-width="1.5" fill="none"/>
<g clip-path="url(#dnaLa)" fill="none" stroke-width="7.2">
<path d="M280.0,1370.9 L281.5,1372.0 L283.0,1372.9 L284.5,1373.6 L286.0,1374.1 L287.5,1374.3 L289.0,1374.3 L290.5,1374.0 L292.0,1373.5 L293.5,1372.7 L295.0,1371.8 L296.5,1370.6 L298.0,1369.3 L299.5,1367.8 L301.0,1366.2 L302.5,1364.5 L304.0,1362.7 L305.5,1360.9 L307.0,1359.1 L308.5,1357.3 L310.0,1355.6 L311.5,1354.0 L313.0,1352.5 L314.5,1351.2 L316.0,1350.1 L317.5,1349.2 L319.0,1348.4 L320.5,1348.0 L322.0,1347.7 L323.5,1347.7 L325.0,1348.0 L326.5,1348.5 L328.0,1349.2 L329.5,1350.2 L331.0,1351.3 L332.5,1352.6 L334.0,1354.1 L335.5,1355.7 L337.0,1357.4 L338.5,1359.2 L340.0,1361.0 L341.5,1362.8 L343.0,1364.6 L344.5,1366.3 L346.0,1367.9 L347.5,1369.4 L349.0,1370.7 L350.5,1371.8 L352.0,1372.8 L353.5,1373.5 L355.0,1374.0 L356.5,1374.3 L358.0,1374.3 L359.5,1374.0 L361.0,1373.6 L362.5,1372.8 L364.0,1371.9 L365.5,1370.8 L367.0,1369.5 L368.5,1368.0 L370.0,1366.4 L371.5,1364.7 L373.0,1362.9 L374.5,1361.1 L376.0,1359.3 L377.5,1357.5 L379.0,1355.8 L380.5,1354.2 L382.0,1352.7 L383.5,1351.4 L385.0,1350.2 L386.5,1349.3 L388.0,1348.5 L389.5,1348.0 L391.0,1347.7 L392.5,1347.7 L394.0,1347.9 L395.5,1348.4 L397.0,1349.1 L398.5,1350.0 L400.0,1351.1 L401.5,1352.4 L403.0,1353.9 L404.5,1355.5 L406.0,1357.2 L407.5,1359.0 L409.0,1360.8 L410.5,1362.6 L412.0,1364.3 L413.5,1366.1 L415.0,1367.7 L416.5,1369.2 L418.0,1370.5 L419.5,1371.7 L421.0,1372.7 L422.5,1373.4 L424.0,1374.0 L425.5,1374.2 L427.0,1374.3 L428.5,1374.1 L430.0,1373.6 L431.5,1373.0 L433.0,1372.1 L434.5,1370.9 L436.0,1369.7 L437.5,1368.2 L439.0,1366.6 L440.5,1364.9 L442.0,1363.2 L443.5,1361.4 L445.0,1359.6 L446.5,1357.8 L448.0,1356.1 L449.5,1354.4 L451.0,1352.9 L452.5,1351.6 L454.0,1350.4 L455.5,1349.4 L457.0,1348.6 L458.5,1348.1 L460.0,1347.8 L461.5,1347.7 L463.0,1347.9 L464.5,1348.3 L466.0,1349.0 L467.5,1349.9 L469.0,1351.0 L470.5,1352.3 L472.0,1353.7 L473.5,1355.3 L475.0,1357.0 L476.5,1358.7 L478.0,1360.5 L479.5,1362.3 L481.0,1364.1 L482.5,1365.8 L484.0,1367.5 L485.5,1369.0 L487.0,1370.4 L488.5,1371.6 L490.0,1372.6 L491.5,1373.3 L493.0,1373.9 L494.5,1374.2 L496.0,1374.3 L497.5,1374.1 L499.0,1373.7 L500.5,1373.1 L502.0,1372.2 L503.5,1371.1 L505.0,1369.8 L506.5,1368.4 L508.0,1366.8 L509.5,1365.2 L511.0,1363.4 L512.5,1361.6 L514.0,1359.8 L515.5,1358.0 L517.0,1356.3 L518.5,1354.6 L520.0,1353.1 L521.5,1351.7 L523.0,1350.5 L524.5,1349.5 L526.0,1348.7 L527.5,1348.1 L529.0,1347.8 L530.5,1347.7 L532.0,1347.9 L533.5,1348.3 L535.0,1348.9 L536.5,1349.8 L538.0,1350.8 L539.5,1352.1 L541.0,1353.5 L542.5,1355.1 L544.0,1356.7 L545.5,1358.5 L547.0,1360.3 L548.5,1362.1 L550.0,1363.9 L551.5,1365.6 L553.0,1367.3 L554.5,1368.8 L556.0,1370.2 L557.5,1371.4 L559.0,1372.4 L560.5,1373.3 L562.0,1373.8 L563.5,1374.2 L565.0,1374.3 L566.5,1374.2 L568.0,1373.8 L569.5,1373.2 L571.0,1372.3 L572.5,1371.3 L574.0,1370.0 L575.5,1368.6 L577.0,1367.0 L578.5,1365.4 L580.0,1363.6 L581.5,1361.8 L583.0,1360.0 L584.5,1358.2 L586.0,1356.5 L587.5,1354.8 L589.0,1353.3 L590.5,1351.9 L592.0,1350.7 L593.5,1349.6 L595.0,1348.8 L596.5,1348.2 L598.0,1347.8 L599.5,1347.7 L601.0,1347.8 L602.5,1348.2 L604.0,1348.8 L605.5,1349.6 L607.0,1350.7 L608.5,1351.9 L610.0,1353.3 L611.5,1354.8 L613.0,1356.5 L614.5,1358.2 L616.0,1360.0 L617.5,1361.8 L619.0,1363.6 L620.5,1365.4 L622.0,1367.0 L623.5,1368.6 L625.0,1370.0 L626.5,1371.3 L628.0,1372.3 L629.5,1373.2 L631.0,1373.8 L632.5,1374.2 L634.0,1374.3 L635.5,1374.2 L637.0,1373.8 L638.5,1373.3 L640.0,1372.4 L641.5,1371.4 L643.0,1370.2 L644.5,1368.8 L646.0,1367.3 L647.5,1365.6 L649.0,1363.9 L650.5,1362.1 L652.0,1360.3 L653.5,1358.5 L655.0,1356.7 L656.5,1355.1 L658.0,1353.5 L659.5,1352.1 L661.0,1350.8 L662.5,1349.8 L664.0,1348.9 L665.5,1348.3 L667.0,1347.9 L668.5,1347.7 L670.0,1347.8 L671.5,1348.1 L673.0,1348.7 L674.5,1349.5 L676.0,1350.5 L677.5,1351.7 L679.0,1353.1 L680.5,1354.6 L682.0,1356.3 L683.5,1358.0 L685.0,1359.8 L686.5,1361.6 L688.0,1363.4 L689.5,1365.2 L691.0,1366.8 L692.5,1368.4 L694.0,1369.8 L695.5,1371.1 L697.0,1372.2 L698.5,1373.1 L700.0,1373.7 L701.5,1374.1" stroke="#8597c6"/>
<path d="M280.0,1348.7 L281.5,1349.6 L283.0,1350.6 L284.5,1351.8 L286.0,1353.2 L287.5,1354.7 L289.0,1356.4 L290.5,1358.1 L292.0,1359.9 L293.5,1361.7 L295.0,1363.5 L296.5,1365.3 L298.0,1366.9 L299.5,1368.5 L301.0,1369.9 L302.5,1371.2 L304.0,1372.2 L305.5,1373.1 L307.0,1373.7 L308.5,1374.1 L310.0,1374.3 L311.5,1374.2 L313.0,1373.9 L314.5,1373.3 L316.0,1372.5 L317.5,1371.5 L319.0,1370.3 L320.5,1368.9 L322.0,1367.4 L323.5,1365.7 L325.0,1364.0 L326.5,1362.2 L328.0,1360.4 L329.5,1358.6 L331.0,1356.8 L332.5,1355.2 L334.0,1353.6 L335.5,1352.2 L337.0,1350.9 L338.5,1349.8 L340.0,1348.9 L341.5,1348.3 L343.0,1347.9 L344.5,1347.7 L346.0,1347.8 L347.5,1348.1 L349.0,1348.7 L350.5,1349.4 L352.0,1350.4 L353.5,1351.6 L355.0,1353.0 L356.5,1354.5 L358.0,1356.2 L359.5,1357.9 L361.0,1359.7 L362.5,1361.5 L364.0,1363.3 L365.5,1365.0 L367.0,1366.7 L368.5,1368.3 L370.0,1369.7 L371.5,1371.0 L373.0,1372.1 L374.5,1373.0 L376.0,1373.7 L377.5,1374.1 L379.0,1374.3 L380.5,1374.2 L382.0,1373.9 L383.5,1373.4 L385.0,1372.6 L386.5,1371.6 L388.0,1370.4 L389.5,1369.1 L391.0,1367.6 L392.5,1365.9 L394.0,1364.2 L395.5,1362.4 L397.0,1360.6 L398.5,1358.8 L400.0,1357.1 L401.5,1355.4 L403.0,1353.8 L404.5,1352.3 L406.0,1351.1 L407.5,1349.9 L409.0,1349.0 L410.5,1348.4 L412.0,1347.9 L413.5,1347.7 L415.0,1347.8 L416.5,1348.0 L418.0,1348.6 L419.5,1349.3 L421.0,1350.3 L422.5,1351.5 L424.0,1352.8 L425.5,1354.3 L427.0,1355.9 L428.5,1357.7 L430.0,1359.4 L431.5,1361.2 L433.0,1363.0 L434.5,1364.8 L436.0,1366.5 L437.5,1368.1 L439.0,1369.6 L440.5,1370.9 L442.0,1372.0 L443.5,1372.9 L445.0,1373.6 L446.5,1374.1 L448.0,1374.3 L449.5,1374.3 L451.0,1374.0 L452.5,1373.5 L454.0,1372.7 L455.5,1371.8 L457.0,1370.6 L458.5,1369.3 L460.0,1367.8 L461.5,1366.2 L463.0,1364.5 L464.5,1362.7 L466.0,1360.9 L467.5,1359.1 L469.0,1357.3 L470.5,1355.6 L472.0,1354.0 L473.5,1352.5 L475.0,1351.2 L476.5,1350.1 L478.0,1349.2 L479.5,1348.4 L481.0,1348.0 L482.5,1347.7 L484.0,1347.7 L485.5,1348.0 L487.0,1348.5 L488.5,1349.2 L490.0,1350.2 L491.5,1351.3 L493.0,1352.6 L494.5,1354.1 L496.0,1355.7 L497.5,1357.4 L499.0,1359.2 L500.5,1361.0 L502.0,1362.8 L503.5,1364.6 L505.0,1366.3 L506.5,1367.9 L508.0,1369.4 L509.5,1370.7 L511.0,1371.8 L512.5,1372.8 L514.0,1373.5 L515.5,1374.0 L517.0,1374.3 L518.5,1374.3 L520.0,1374.0 L521.5,1373.6 L523.0,1372.8 L524.5,1371.9 L526.0,1370.8 L527.5,1369.5 L529.0,1368.0 L530.5,1366.4 L532.0,1364.7 L533.5,1362.9 L535.0,1361.1 L536.5,1359.3 L538.0,1357.5 L539.5,1355.8 L541.0,1354.2 L542.5,1352.7 L544.0,1351.4 L545.5,1350.2 L547.0,1349.3 L548.5,1348.5 L550.0,1348.0 L551.5,1347.7 L553.0,1347.7 L554.5,1347.9 L556.0,1348.4 L557.5,1349.1 L559.0,1350.0 L560.5,1351.1 L562.0,1352.4 L563.5,1353.9 L565.0,1355.5 L566.5,1357.2 L568.0,1359.0 L569.5,1360.8 L571.0,1362.6 L572.5,1364.3 L574.0,1366.1 L575.5,1367.7 L577.0,1369.2 L578.5,1370.5 L580.0,1371.7 L581.5,1372.7 L583.0,1373.4 L584.5,1374.0 L586.0,1374.2 L587.5,1374.3 L589.0,1374.1 L590.5,1373.6 L592.0,1373.0 L593.5,1372.1 L595.0,1370.9 L596.5,1369.7 L598.0,1368.2 L599.5,1366.6 L601.0,1364.9 L602.5,1363.2 L604.0,1361.4 L605.5,1359.6 L607.0,1357.8 L608.5,1356.1 L610.0,1354.4 L611.5,1352.9 L613.0,1351.6 L614.5,1350.4 L616.0,1349.4 L617.5,1348.6 L619.0,1348.1 L620.5,1347.8 L622.0,1347.7 L623.5,1347.9 L625.0,1348.3 L626.5,1349.0 L628.0,1349.9 L629.5,1351.0 L631.0,1352.3 L632.5,1353.7 L634.0,1355.3 L635.5,1357.0 L637.0,1358.7 L638.5,1360.5 L640.0,1362.3 L641.5,1364.1 L643.0,1365.8 L644.5,1367.5 L646.0,1369.0 L647.5,1370.4 L649.0,1371.6 L650.5,1372.6 L652.0,1373.3 L653.5,1373.9 L655.0,1374.2 L656.5,1374.3 L658.0,1374.1 L659.5,1373.7 L661.0,1373.1 L662.5,1372.2 L664.0,1371.1 L665.5,1369.8 L667.0,1368.4 L668.5,1366.8 L670.0,1365.2 L671.5,1363.4 L673.0,1361.6 L674.5,1359.8 L676.0,1358.0 L677.5,1356.3 L679.0,1354.6 L680.5,1353.1 L682.0,1351.7 L683.5,1350.5 L685.0,1349.5 L686.5,1348.7 L688.0,1348.1 L689.5,1347.8 L691.0,1347.7 L692.5,1347.9 L694.0,1348.3 L695.5,1348.9 L697.0,1349.8 L698.5,1350.8 L700.0,1352.1 L701.5,1353.5" stroke="#5d6d9d"/>
</g>
<path d="M280.0,1370.9 L281.5,1372.0 L283.0,1372.9 L284.5,1373.6 L286.0,1374.1 L287.5,1374.3 L289.0,1374.3 L290.5,1374.0 L292.0,1373.5 L293.5,1372.7 L295.0,1371.8 L296.5,1370.6 L298.0,1369.3 L299.5,1367.8 L301.0,1366.2 L302.5,1364.5 L304.0,1362.7 L305.5,1360.9 L307.0,1359.1 L308.5,1357.3 L310.0,1355.6 L311.5,1354.0 L313.0,1352.5 L314.5,1351.2 L316.0,1350.1 L317.5,1349.2 L319.0,1348.4 L320.5,1348.0 L322.0,1347.7 L323.5,1347.7 L325.0,1348.0 L326.5,1348.5 L328.0,1349.2 L329.5,1350.2 L331.0,1351.3 L332.5,1352.6 L334.0,1354.1 L335.5,1355.7 L337.0,1357.4 L338.5,1359.2 L340.0,1361.0 L341.5,1362.8 L343.0,1364.6 L344.5,1366.3 L346.0,1367.9 L347.5,1369.4 L349.0,1370.7 L350.5,1371.8 L352.0,1372.8 L353.5,1373.5 L355.0,1374.0 L356.5,1374.3 L358.0,1374.3 L359.5,1374.0 L361.0,1373.6 L362.5,1372.8 L364.0,1371.9 L365.5,1370.8 L367.0,1369.5 L368.5,1368.0 L370.0,1366.4 L371.5,1364.7 L373.0,1362.9 L374.5,1361.1 L376.0,1359.3 L377.5,1357.5 L379.0,1355.8 L380.5,1354.2 L382.0,1352.7 L383.5,1351.4 L385.0,1350.2 L386.5,1349.3 L388.0,1348.5 L389.5,1348.0 L391.0,1347.7 L392.5,1347.7 L394.0,1347.9 L395.5,1348.4 L397.0,1349.1 L398.5,1350.0 L400.0,1351.1 L401.5,1352.4 L403.0,1353.9 L404.5,1355.5 L406.0,1357.2 L407.5,1359.0 L409.0,1360.8 L410.5,1362.6 L412.0,1364.3 L413.5,1366.1 L415.0,1367.7 L416.5,1369.2 L418.0,1370.5 L419.5,1371.7 L421.0,1372.7 L422.5,1373.4 L424.0,1374.0 L425.5,1374.2 L427.0,1374.3 L428.5,1374.1 L430.0,1373.6 L431.5,1373.0 L433.0,1372.1 L434.5,1370.9 L436.0,1369.7 L437.5,1368.2 L439.0,1366.6 L440.5,1364.9 L442.0,1363.2 L443.5,1361.4 L445.0,1359.6 L446.5,1357.8 L448.0,1356.1 L449.5,1354.4 L451.0,1352.9 L452.5,1351.6 L454.0,1350.4 L455.5,1349.4 L457.0,1348.6 L458.5,1348.1 L460.0,1347.8 L461.5,1347.7 L463.0,1347.9 L464.5,1348.3 L466.0,1349.0 L467.5,1349.9 L469.0,1351.0 L470.5,1352.3 L472.0,1353.7 L473.5,1355.3 L475.0,1357.0 L476.5,1358.7 L478.0,1360.5 L479.5,1362.3 L481.0,1364.1 L482.5,1365.8 L484.0,1367.5 L485.5,1369.0 L487.0,1370.4 L488.5,1371.6 L490.0,1372.6 L491.5,1373.3 L493.0,1373.9 L494.5,1374.2 L496.0,1374.3 L497.5,1374.1 L499.0,1373.7 L500.5,1373.1 L502.0,1372.2 L503.5,1371.1 L505.0,1369.8 L506.5,1368.4 L508.0,1366.8 L509.5,1365.2 L511.0,1363.4 L512.5,1361.6 L514.0,1359.8 L515.5,1358.0 L517.0,1356.3 L518.5,1354.6 L520.0,1353.1 L521.5,1351.7 L523.0,1350.5 L524.5,1349.5 L526.0,1348.7 L527.5,1348.1 L529.0,1347.8 L530.5,1347.7 L532.0,1347.9 L533.5,1348.3 L535.0,1348.9 L536.5,1349.8 L538.0,1350.8 L539.5,1352.1 L541.0,1353.5 L542.5,1355.1 L544.0,1356.7 L545.5,1358.5 L547.0,1360.3 L548.5,1362.1 L550.0,1363.9 L551.5,1365.6 L553.0,1367.3 L554.5,1368.8 L556.0,1370.2 L557.5,1371.4 L559.0,1372.4 L560.5,1373.3 L562.0,1373.8 L563.5,1374.2 L565.0,1374.3 L566.5,1374.2 L568.0,1373.8 L569.5,1373.2 L571.0,1372.3 L572.5,1371.3 L574.0,1370.0 L575.5,1368.6 L577.0,1367.0 L578.5,1365.4 L580.0,1363.6 L581.5,1361.8 L583.0,1360.0 L584.5,1358.2 L586.0,1356.5 L587.5,1354.8 L589.0,1353.3 L590.5,1351.9 L592.0,1350.7 L593.5,1349.6 L595.0,1348.8 L596.5,1348.2 L598.0,1347.8 L599.5,1347.7 L601.0,1347.8 L602.5,1348.2 L604.0,1348.8 L605.5,1349.6 L607.0,1350.7 L608.5,1351.9 L610.0,1353.3 L611.5,1354.8 L613.0,1356.5 L614.5,1358.2 L616.0,1360.0 L617.5,1361.8 L619.0,1363.6 L620.5,1365.4 L622.0,1367.0 L623.5,1368.6 L625.0,1370.0 L626.5,1371.3 L628.0,1372.3 L629.5,1373.2 L631.0,1373.8 L632.5,1374.2 L634.0,1374.3 L635.5,1374.2 L637.0,1373.8 L638.5,1373.3 L640.0,1372.4 L641.5,1371.4 L643.0,1370.2 L644.5,1368.8 L646.0,1367.3 L647.5,1365.6 L649.0,1363.9 L650.5,1362.1 L652.0,1360.3 L653.5,1358.5 L655.0,1356.7 L656.5,1355.1 L658.0,1353.5 L659.5,1352.1 L661.0,1350.8 L662.5,1349.8 L664.0,1348.9 L665.5,1348.3 L667.0,1347.9 L668.5,1347.7 L670.0,1347.8 L671.5,1348.1 L673.0,1348.7 L674.5,1349.5 L676.0,1350.5 L677.5,1351.7 L679.0,1353.1 L680.5,1354.6 L682.0,1356.3 L683.5,1358.0 L685.0,1359.8 L686.5,1361.6 L688.0,1363.4 L689.5,1365.2 L691.0,1366.8 L692.5,1368.4 L694.0,1369.8 L695.5,1371.1 L697.0,1372.2 L698.5,1373.1 L700.0,1373.7 L701.5,1374.1" stroke="#8597c6" stroke-width="7.2" fill="none" clip-path="url(#dnaL)"/>
<g clip-path="url(#dnaRa)" fill="none" stroke-width="7.2">
<path d="M764.0,1341.0 L765.5,1342.2 L767.0,1343.2 L768.5,1344.1 L770.0,1344.6 L771.5,1345.0 L773.0,1345.1 L774.5,1345.0 L776.0,1344.6 L777.5,1344.0 L779.0,1343.1 L780.5,1342.1 L782.0,1340.8 L783.5,1339.4 L785.0,1337.8 L786.5,1336.2 L788.0,1334.4 L789.5,1332.6 L791.0,1330.8 L792.5,1329.0 L794.0,1327.3 L795.5,1325.6 L797.0,1324.1 L798.5,1322.7 L800.0,1321.5 L801.5,1320.4 L803.0,1319.6 L804.5,1319.0 L806.0,1318.6 L807.5,1318.5 L809.0,1318.6 L810.5,1319.0 L812.0,1319.6 L813.5,1320.4 L815.0,1321.5 L816.5,1322.7 L818.0,1324.1 L819.5,1325.6 L821.0,1327.3 L822.5,1329.0 L824.0,1330.8 L825.5,1332.6 L827.0,1334.4 L828.5,1336.2 L830.0,1337.8 L831.5,1339.4 L833.0,1340.8 L834.5,1342.1 L836.0,1343.1 L837.5,1344.0 L839.0,1344.6 L840.5,1345.0 L842.0,1345.1 L843.5,1345.0 L845.0,1344.6 L846.5,1344.1 L848.0,1343.2 L849.5,1342.2 L851.0,1341.0 L852.5,1339.6 L854.0,1338.1 L855.5,1336.4 L857.0,1334.7 L858.5,1332.9 L860.0,1331.1 L861.5,1329.3 L863.0,1327.5 L864.5,1325.9 L866.0,1324.3 L867.5,1322.9 L869.0,1321.6 L870.5,1320.6 L872.0,1319.7 L873.5,1319.1 L875.0,1318.7 L876.5,1318.5 L878.0,1318.6 L879.5,1318.9 L881.0,1319.5 L882.5,1320.3 L884.0,1321.3 L885.5,1322.5 L887.0,1323.9 L888.5,1325.4 L890.0,1327.1 L891.5,1328.8 L893.0,1330.6 L894.5,1332.4 L896.0,1334.2 L897.5,1336.0 L899.0,1337.6 L900.5,1339.2 L902.0,1340.6 L903.5,1341.9 L905.0,1343.0 L906.5,1343.9 L908.0,1344.5 L909.5,1344.9 L911.0,1345.1 L912.5,1345.0 L914.0,1344.7 L915.5,1344.1 L917.0,1343.4 L918.5,1342.4 L920.0,1341.2 L921.5,1339.8 L923.0,1338.3 L924.5,1336.6 L926.0,1334.9 L927.5,1333.1 L929.0,1331.3 L930.5,1329.5 L932.0,1327.8 L933.5,1326.1 L935.0,1324.5 L936.5,1323.1 L938.0,1321.8 L939.5,1320.7 L941.0,1319.8 L942.5,1319.1 L944.0,1318.7 L945.5,1318.5 L947.0,1318.6 L948.5,1318.9 L950.0,1319.4 L951.5,1320.2 L953.0,1321.2 L954.5,1322.4 L956.0,1323.7 L957.5,1325.2 L959.0,1326.9 L960.5,1328.6 L962.0,1330.4 L963.5,1332.2 L965.0,1334.0 L966.5,1335.7 L968.0,1337.4 L969.5,1339.0 L971.0,1340.5 L972.5,1341.7 L974.0,1342.9 L975.5,1343.8 L977.0,1344.4 L978.5,1344.9 L980.0,1345.1 L981.5,1345.0 L983.0,1344.8 L984.5,1344.2 L986.0,1343.5 L987.5,1342.5 L989.0,1341.3 L990.5,1340.0 L992.0,1338.5 L993.5,1336.9 L995.0,1335.1 L996.5,1333.4 L998.0,1331.6 L999.5,1329.8 L1001.0,1328.0 L1002.5,1326.3 L1004.0,1324.7 L1005.5,1323.2 L1007.0,1321.9 L1008.5,1320.8 L1010.0,1319.9 L1011.5,1319.2 L1013.0,1318.7 L1014.5,1318.5 L1016.0,1318.5 L1017.5,1318.8 L1019.0,1319.3 L1020.5,1320.1 L1022.0,1321.0 L1023.5,1322.2 L1025.0,1323.5 L1026.5,1325.0 L1028.0,1326.6 L1029.5,1328.3 L1031.0,1330.1 L1032.5,1331.9 L1034.0,1333.7 L1035.5,1335.5 L1037.0,1337.2 L1038.5,1338.8 L1040.0,1340.3 L1041.5,1341.6 L1043.0,1342.7 L1044.5,1343.6 L1046.0,1344.4 L1047.5,1344.8 L1049.0,1345.1 L1050.5,1345.1 L1052.0,1344.8 L1053.5,1344.3 L1055.0,1343.6 L1056.5,1342.6 L1058.0,1341.5 L1059.5,1340.2 L1061.0,1338.7 L1062.5,1337.1 L1064.0,1335.4 L1065.5,1333.6 L1067.0,1331.8 L1068.5,1330.0 L1070.0,1328.2 L1071.5,1326.5 L1073.0,1324.9 L1074.5,1323.4 L1076.0,1322.1 L1077.5,1321.0 L1079.0,1320.0 L1080.5,1319.3 L1082.0,1318.8 L1083.5,1318.5 L1085.0,1318.5 L1086.5,1318.8 L1088.0,1319.2 L1089.5,1320.0 L1091.0,1320.9 L1092.5,1322.0 L1094.0,1323.3 L1095.5,1324.8 L1097.0,1326.4 L1098.5,1328.1 L1100.0,1329.9 L1101.5,1331.7 L1103.0,1333.5 L1104.5,1335.3 L1106.0,1337.0 L1107.5,1338.6 L1109.0,1340.1 L1110.5,1341.4 L1112.0,1342.6 L1113.5,1343.5 L1115.0,1344.3 L1116.5,1344.8 L1118.0,1345.1 L1119.5,1345.1 L1121.0,1344.9 L1122.5,1344.4 L1124.0,1343.7 L1125.5,1342.8 L1127.0,1341.7 L1128.5,1340.4 L1130.0,1338.9 L1131.5,1337.3 L1133.0,1335.6 L1134.5,1333.8 L1136.0,1332.0 L1137.5,1330.2 L1139.0,1328.5 L1140.5,1326.7 L1142.0,1325.1 L1143.5,1323.6 L1145.0,1322.3 L1146.5,1321.1 L1148.0,1320.1 L1149.5,1319.4 L1151.0,1318.8 L1152.5,1318.6 L1154.0,1318.5 L1155.5,1318.7 L1157.0,1319.2 L1158.5,1319.8 L1160.0,1320.7 L1161.5,1321.9 L1163.0,1323.1 L1164.5,1324.6 L1166.0,1326.2 L1167.5,1327.9 L1169.0,1329.6 L1170.5,1331.4 L1172.0,1333.2 L1173.5,1335.0 L1175.0,1336.7 L1176.5,1338.4 L1178.0,1339.9 L1179.5,1341.2 L1181.0,1342.4 L1182.5,1343.4 L1184.0,1344.2 L1185.5,1344.7 L1187.0,1345.0" stroke="#8597c6"/>
<path d="M764.0,1319.0 L765.5,1319.6 L767.0,1320.4 L768.5,1321.5 L770.0,1322.7 L771.5,1324.1 L773.0,1325.6 L774.5,1327.3 L776.0,1329.0 L777.5,1330.8 L779.0,1332.6 L780.5,1334.4 L782.0,1336.2 L783.5,1337.8 L785.0,1339.4 L786.5,1340.8 L788.0,1342.1 L789.5,1343.1 L791.0,1344.0 L792.5,1344.6 L794.0,1345.0 L795.5,1345.1 L797.0,1345.0 L798.5,1344.6 L800.0,1344.1 L801.5,1343.2 L803.0,1342.2 L804.5,1341.0 L806.0,1339.6 L807.5,1338.1 L809.0,1336.4 L810.5,1334.7 L812.0,1332.9 L813.5,1331.1 L815.0,1329.3 L816.5,1327.5 L818.0,1325.9 L819.5,1324.3 L821.0,1322.9 L822.5,1321.6 L824.0,1320.6 L825.5,1319.7 L827.0,1319.1 L828.5,1318.7 L830.0,1318.5 L831.5,1318.6 L833.0,1318.9 L834.5,1319.5 L836.0,1320.3 L837.5,1321.3 L839.0,1322.5 L840.5,1323.9 L842.0,1325.4 L843.5,1327.1 L845.0,1328.8 L846.5,1330.6 L848.0,1332.4 L849.5,1334.2 L851.0,1336.0 L852.5,1337.6 L854.0,1339.2 L855.5,1340.6 L857.0,1341.9 L858.5,1343.0 L860.0,1343.9 L861.5,1344.5 L863.0,1344.9 L864.5,1345.1 L866.0,1345.0 L867.5,1344.7 L869.0,1344.1 L870.5,1343.4 L872.0,1342.4 L873.5,1341.2 L875.0,1339.8 L876.5,1338.3 L878.0,1336.6 L879.5,1334.9 L881.0,1333.1 L882.5,1331.3 L884.0,1329.5 L885.5,1327.8 L887.0,1326.1 L888.5,1324.5 L890.0,1323.1 L891.5,1321.8 L893.0,1320.7 L894.5,1319.8 L896.0,1319.1 L897.5,1318.7 L899.0,1318.5 L900.5,1318.6 L902.0,1318.9 L903.5,1319.4 L905.0,1320.2 L906.5,1321.2 L908.0,1322.4 L909.5,1323.7 L911.0,1325.2 L912.5,1326.9 L914.0,1328.6 L915.5,1330.4 L917.0,1332.2 L918.5,1334.0 L920.0,1335.7 L921.5,1337.4 L923.0,1339.0 L924.5,1340.5 L926.0,1341.7 L927.5,1342.9 L929.0,1343.8 L930.5,1344.4 L932.0,1344.9 L933.5,1345.1 L935.0,1345.0 L936.5,1344.8 L938.0,1344.2 L939.5,1343.5 L941.0,1342.5 L942.5,1341.3 L944.0,1340.0 L945.5,1338.5 L947.0,1336.9 L948.5,1335.1 L950.0,1333.4 L951.5,1331.6 L953.0,1329.8 L954.5,1328.0 L956.0,1326.3 L957.5,1324.7 L959.0,1323.2 L960.5,1321.9 L962.0,1320.8 L963.5,1319.9 L965.0,1319.2 L966.5,1318.7 L968.0,1318.5 L969.5,1318.5 L971.0,1318.8 L972.5,1319.3 L974.0,1320.1 L975.5,1321.0 L977.0,1322.2 L978.5,1323.5 L980.0,1325.0 L981.5,1326.6 L983.0,1328.3 L984.5,1330.1 L986.0,1331.9 L987.5,1333.7 L989.0,1335.5 L990.5,1337.2 L992.0,1338.8 L993.5,1340.3 L995.0,1341.6 L996.5,1342.7 L998.0,1343.6 L999.5,1344.4 L1001.0,1344.8 L1002.5,1345.1 L1004.0,1345.1 L1005.5,1344.8 L1007.0,1344.3 L1008.5,1343.6 L1010.0,1342.6 L1011.5,1341.5 L1013.0,1340.2 L1014.5,1338.7 L1016.0,1337.1 L1017.5,1335.4 L1019.0,1333.6 L1020.5,1331.8 L1022.0,1330.0 L1023.5,1328.2 L1025.0,1326.5 L1026.5,1324.9 L1028.0,1323.4 L1029.5,1322.1 L1031.0,1321.0 L1032.5,1320.0 L1034.0,1319.3 L1035.5,1318.8 L1037.0,1318.5 L1038.5,1318.5 L1040.0,1318.8 L1041.5,1319.2 L1043.0,1320.0 L1044.5,1320.9 L1046.0,1322.0 L1047.5,1323.3 L1049.0,1324.8 L1050.5,1326.4 L1052.0,1328.1 L1053.5,1329.9 L1055.0,1331.7 L1056.5,1333.5 L1058.0,1335.3 L1059.5,1337.0 L1061.0,1338.6 L1062.5,1340.1 L1064.0,1341.4 L1065.5,1342.6 L1067.0,1343.5 L1068.5,1344.3 L1070.0,1344.8 L1071.5,1345.1 L1073.0,1345.1 L1074.5,1344.9 L1076.0,1344.4 L1077.5,1343.7 L1079.0,1342.8 L1080.5,1341.7 L1082.0,1340.4 L1083.5,1338.9 L1085.0,1337.3 L1086.5,1335.6 L1088.0,1333.8 L1089.5,1332.0 L1091.0,1330.2 L1092.5,1328.5 L1094.0,1326.7 L1095.5,1325.1 L1097.0,1323.6 L1098.5,1322.3 L1100.0,1321.1 L1101.5,1320.1 L1103.0,1319.4 L1104.5,1318.8 L1106.0,1318.6 L1107.5,1318.5 L1109.0,1318.7 L1110.5,1319.2 L1112.0,1319.8 L1113.5,1320.7 L1115.0,1321.9 L1116.5,1323.1 L1118.0,1324.6 L1119.5,1326.2 L1121.0,1327.9 L1122.5,1329.6 L1124.0,1331.4 L1125.5,1333.2 L1127.0,1335.0 L1128.5,1336.7 L1130.0,1338.4 L1131.5,1339.9 L1133.0,1341.2 L1134.5,1342.4 L1136.0,1343.4 L1137.5,1344.2 L1139.0,1344.7 L1140.5,1345.0 L1142.0,1345.1 L1143.5,1344.9 L1145.0,1344.5 L1146.5,1343.8 L1148.0,1342.9 L1149.5,1341.8 L1151.0,1340.5 L1152.5,1339.1 L1154.0,1337.5 L1155.5,1335.8 L1157.0,1334.1 L1158.5,1332.3 L1160.0,1330.5 L1161.5,1328.7 L1163.0,1327.0 L1164.5,1325.3 L1166.0,1323.8 L1167.5,1322.4 L1169.0,1321.2 L1170.5,1320.2 L1172.0,1319.5 L1173.5,1318.9 L1175.0,1318.6 L1176.5,1318.5 L1178.0,1318.7 L1179.5,1319.1 L1181.0,1319.7 L1182.5,1320.6 L1184.0,1321.7 L1185.5,1323.0 L1187.0,1324.4" stroke="#5d6d9d"/>
</g>
<path d="M764.0,1341.0 L765.5,1342.2 L767.0,1343.2 L768.5,1344.1 L770.0,1344.6 L771.5,1345.0 L773.0,1345.1 L774.5,1345.0 L776.0,1344.6 L777.5,1344.0 L779.0,1343.1 L780.5,1342.1 L782.0,1340.8 L783.5,1339.4 L785.0,1337.8 L786.5,1336.2 L788.0,1334.4 L789.5,1332.6 L791.0,1330.8 L792.5,1329.0 L794.0,1327.3 L795.5,1325.6 L797.0,1324.1 L798.5,1322.7 L800.0,1321.5 L801.5,1320.4 L803.0,1319.6 L804.5,1319.0 L806.0,1318.6 L807.5,1318.5 L809.0,1318.6 L810.5,1319.0 L812.0,1319.6 L813.5,1320.4 L815.0,1321.5 L816.5,1322.7 L818.0,1324.1 L819.5,1325.6 L821.0,1327.3 L822.5,1329.0 L824.0,1330.8 L825.5,1332.6 L827.0,1334.4 L828.5,1336.2 L830.0,1337.8 L831.5,1339.4 L833.0,1340.8 L834.5,1342.1 L836.0,1343.1 L837.5,1344.0 L839.0,1344.6 L840.5,1345.0 L842.0,1345.1 L843.5,1345.0 L845.0,1344.6 L846.5,1344.1 L848.0,1343.2 L849.5,1342.2 L851.0,1341.0 L852.5,1339.6 L854.0,1338.1 L855.5,1336.4 L857.0,1334.7 L858.5,1332.9 L860.0,1331.1 L861.5,1329.3 L863.0,1327.5 L864.5,1325.9 L866.0,1324.3 L867.5,1322.9 L869.0,1321.6 L870.5,1320.6 L872.0,1319.7 L873.5,1319.1 L875.0,1318.7 L876.5,1318.5 L878.0,1318.6 L879.5,1318.9 L881.0,1319.5 L882.5,1320.3 L884.0,1321.3 L885.5,1322.5 L887.0,1323.9 L888.5,1325.4 L890.0,1327.1 L891.5,1328.8 L893.0,1330.6 L894.5,1332.4 L896.0,1334.2 L897.5,1336.0 L899.0,1337.6 L900.5,1339.2 L902.0,1340.6 L903.5,1341.9 L905.0,1343.0 L906.5,1343.9 L908.0,1344.5 L909.5,1344.9 L911.0,1345.1 L912.5,1345.0 L914.0,1344.7 L915.5,1344.1 L917.0,1343.4 L918.5,1342.4 L920.0,1341.2 L921.5,1339.8 L923.0,1338.3 L924.5,1336.6 L926.0,1334.9 L927.5,1333.1 L929.0,1331.3 L930.5,1329.5 L932.0,1327.8 L933.5,1326.1 L935.0,1324.5 L936.5,1323.1 L938.0,1321.8 L939.5,1320.7 L941.0,1319.8 L942.5,1319.1 L944.0,1318.7 L945.5,1318.5 L947.0,1318.6 L948.5,1318.9 L950.0,1319.4 L951.5,1320.2 L953.0,1321.2 L954.5,1322.4 L956.0,1323.7 L957.5,1325.2 L959.0,1326.9 L960.5,1328.6 L962.0,1330.4 L963.5,1332.2 L965.0,1334.0 L966.5,1335.7 L968.0,1337.4 L969.5,1339.0 L971.0,1340.5 L972.5,1341.7 L974.0,1342.9 L975.5,1343.8 L977.0,1344.4 L978.5,1344.9 L980.0,1345.1 L981.5,1345.0 L983.0,1344.8 L984.5,1344.2 L986.0,1343.5 L987.5,1342.5 L989.0,1341.3 L990.5,1340.0 L992.0,1338.5 L993.5,1336.9 L995.0,1335.1 L996.5,1333.4 L998.0,1331.6 L999.5,1329.8 L1001.0,1328.0 L1002.5,1326.3 L1004.0,1324.7 L1005.5,1323.2 L1007.0,1321.9 L1008.5,1320.8 L1010.0,1319.9 L1011.5,1319.2 L1013.0,1318.7 L1014.5,1318.5 L1016.0,1318.5 L1017.5,1318.8 L1019.0,1319.3 L1020.5,1320.1 L1022.0,1321.0 L1023.5,1322.2 L1025.0,1323.5 L1026.5,1325.0 L1028.0,1326.6 L1029.5,1328.3 L1031.0,1330.1 L1032.5,1331.9 L1034.0,1333.7 L1035.5,1335.5 L1037.0,1337.2 L1038.5,1338.8 L1040.0,1340.3 L1041.5,1341.6 L1043.0,1342.7 L1044.5,1343.6 L1046.0,1344.4 L1047.5,1344.8 L1049.0,1345.1 L1050.5,1345.1 L1052.0,1344.8 L1053.5,1344.3 L1055.0,1343.6 L1056.5,1342.6 L1058.0,1341.5 L1059.5,1340.2 L1061.0,1338.7 L1062.5,1337.1 L1064.0,1335.4 L1065.5,1333.6 L1067.0,1331.8 L1068.5,1330.0 L1070.0,1328.2 L1071.5,1326.5 L1073.0,1324.9 L1074.5,1323.4 L1076.0,1322.1 L1077.5,1321.0 L1079.0,1320.0 L1080.5,1319.3 L1082.0,1318.8 L1083.5,1318.5 L1085.0,1318.5 L1086.5,1318.8 L1088.0,1319.2 L1089.5,1320.0 L1091.0,1320.9 L1092.5,1322.0 L1094.0,1323.3 L1095.5,1324.8 L1097.0,1326.4 L1098.5,1328.1 L1100.0,1329.9 L1101.5,1331.7 L1103.0,1333.5 L1104.5,1335.3 L1106.0,1337.0 L1107.5,1338.6 L1109.0,1340.1 L1110.5,1341.4 L1112.0,1342.6 L1113.5,1343.5 L1115.0,1344.3 L1116.5,1344.8 L1118.0,1345.1 L1119.5,1345.1 L1121.0,1344.9 L1122.5,1344.4 L1124.0,1343.7 L1125.5,1342.8 L1127.0,1341.7 L1128.5,1340.4 L1130.0,1338.9 L1131.5,1337.3 L1133.0,1335.6 L1134.5,1333.8 L1136.0,1332.0 L1137.5,1330.2 L1139.0,1328.5 L1140.5,1326.7 L1142.0,1325.1 L1143.5,1323.6 L1145.0,1322.3 L1146.5,1321.1 L1148.0,1320.1 L1149.5,1319.4 L1151.0,1318.8 L1152.5,1318.6 L1154.0,1318.5 L1155.5,1318.7 L1157.0,1319.2 L1158.5,1319.8 L1160.0,1320.7 L1161.5,1321.9 L1163.0,1323.1 L1164.5,1324.6 L1166.0,1326.2 L1167.5,1327.9 L1169.0,1329.6 L1170.5,1331.4 L1172.0,1333.2 L1173.5,1335.0 L1175.0,1336.7 L1176.5,1338.4 L1178.0,1339.9 L1179.5,1341.2 L1181.0,1342.4 L1182.5,1343.4 L1184.0,1344.2 L1185.5,1344.7 L1187.0,1345.0" stroke="#8597c6" stroke-width="7.2" fill="none" clip-path="url(#dnaR)"/>
<circle cx="322.7" cy="415.3" r="18.4" fill="#ecc226" stroke="#5a3912" stroke-width="2.2"/>
<text x="318.4" y="421.1" font-size="27.2" font-weight="bold" fill="#5a3310" textLength="16" lengthAdjust="spacingAndGlyphs">P</text>
<circle cx="655.3" cy="383.8" r="16.5" fill="#ecc226" stroke="#5a3912" stroke-width="2.2"/>
<text x="651.0" y="389.6" font-size="27.2" font-weight="bold" fill="#5a3310" textLength="16" lengthAdjust="spacingAndGlyphs">P</text>
<circle cx="1202.7" cy="494" r="15.4" fill="#ecc226" stroke="#5a3912" stroke-width="2.2"/>
<text x="1198.4" y="499.8" font-size="27.2" font-weight="bold" fill="#5a3310" textLength="16" lengthAdjust="spacingAndGlyphs">P</text>
<circle cx="1173.3" cy="637.8" r="15.4" fill="#ecc226" stroke="#5a3912" stroke-width="2.2"/>
<text x="1169.0" y="643.6" font-size="27.2" font-weight="bold" fill="#5a3310" textLength="16" lengthAdjust="spacingAndGlyphs">P</text>
<circle cx="977.5" cy="851.5" r="14.9" fill="#ecc226" stroke="#5a3912" stroke-width="2.2"/>
<text x="973.2" y="857.3" font-size="27.2" font-weight="bold" fill="#5a3310" textLength="16" lengthAdjust="spacingAndGlyphs">P</text>
<circle cx="271.7" cy="1062.3" r="13.9" fill="#ecc226" stroke="#5a3912" stroke-width="2.2"/>
<text x="267.4" y="1068.1" font-size="27.2" font-weight="bold" fill="#5a3310" textLength="16" lengthAdjust="spacingAndGlyphs">P</text>
<circle cx="298.4" cy="757.2" r="17.9" fill="#ecc226" stroke="#5a3912" stroke-width="2.2"/>
<text x="294.1" y="763.0" font-size="27.2" font-weight="bold" fill="#5a3310" textLength="16" lengthAdjust="spacingAndGlyphs">P</text>
<circle cx="480" cy="751.3" r="18.1" fill="#ecc226" stroke="#5a3912" stroke-width="2.2"/>
<text x="475.7" y="757.1" font-size="27.2" font-weight="bold" fill="#5a3310" textLength="16" lengthAdjust="spacingAndGlyphs">P</text>
<rect x="213.5" y="336.5" width="102.0" height="38.5" rx="19.2" fill="#d8eef6" stroke="#2a7089" stroke-width="2.2"/>
<rect x="192.0" y="413.0" width="134.5" height="43.0" rx="21.5" fill="#fcf4cf" stroke="#9a8836" stroke-width="3.2"/>
<rect x="232.0" y="462.3" width="123.5" height="43.5" rx="21.8" fill="#fcf4cf" stroke="#9a8836" stroke-width="3.2"/>
<rect x="153.5" y="459.8" width="88.5" height="45.0" rx="22.5" fill="#fcf4cf" stroke="#9a8836" stroke-width="3.2"/>
<rect x="172.0" y="509.0" width="112.5" height="45.0" rx="22.5" fill="#cb4449" stroke="#7f1a22" stroke-width="3.2"/>
<rect x="240.0" y="577.0" width="132.5" height="45.0" rx="22.5" fill="#fcf4cf" stroke="#9a8836" stroke-width="3.2"/>
<rect x="243.5" y="608.5" width="107.0" height="43.5" rx="21.8" fill="#dbebf8" stroke="#27628f" stroke-width="3"/>
<rect x="508.5" y="264.0" width="112.0" height="40.7" rx="13.0" fill="#fcf4cf" stroke="#9a8836" stroke-width="2"/>
<rect x="527.0" y="367.0" width="123.0" height="45.5" rx="22.8" fill="#e2ebf9" stroke="#465a9e" stroke-width="3"/>
<rect x="565.0" y="416.0" width="124.0" height="44.5" rx="22.2" fill="#cb4449" stroke="#7f1a22" stroke-width="3.2"/>
<rect x="752.0" y="198.5" width="112.0" height="50.5" rx="22.0" fill="#fcf4cf" stroke="#9a8836" stroke-width="2.4"/>
<rect x="681.0" y="245.5" width="124.0" height="41.5" rx="20.8" fill="#def2d2" stroke="#347230" stroke-width="3"/>
<rect x="808.5" y="245.0" width="138.0" height="42.0" rx="21.0" fill="#cb4449" stroke="#7f1a22" stroke-width="3.2"/>
<rect x="752.0" y="291.0" width="115.5" height="42.5" rx="21.2" fill="#d8eef6" stroke="#2a7089" stroke-width="2.8"/>
<rect x="1083.0" y="306.0" width="162.0" height="31.0" rx="15.5" fill="#cb4449" stroke="#7f1a22" stroke-width="1.6"/>
<rect x="1186.0" y="349.0" width="76.5" height="36.0" rx="13.0" fill="#def2d2" stroke="#347230" stroke-width="1.6"/>
<rect x="1101.5" y="503.5" width="107.0" height="46.0" rx="23.0" fill="#e9f0fb" stroke="#8c9dcd" stroke-width="2.8"/>
<rect x="1301.5" y="469.5" width="104.5" height="40.5" rx="20.2" fill="#e9f0fb" stroke="#8c9dcd" stroke-width="2.2"/>
<rect x="1101.0" y="643.5" width="73.5" height="39.0" rx="19.5" fill="#dbebf8" stroke="#27628f" stroke-width="2.2"/>
<rect x="1031.0" y="646.0" width="76.5" height="39.0" rx="19.5" fill="#dbebf8" stroke="#27628f" stroke-width="2.2"/>
<rect x="388.0" y="750.5" width="84.0" height="44.0" rx="22.0" fill="#dbebf8" stroke="#27628f" stroke-width="2.8"/>
<rect x="307.5" y="760.0" width="86.5" height="45.0" rx="22.5" fill="#dbebf8" stroke="#27628f" stroke-width="2.8"/>
<rect x="348.0" y="712.5" width="86.5" height="43.5" rx="21.8" fill="#dbebf8" stroke="#27628f" stroke-width="2.8"/>
<rect x="332.5" y="941.0" width="138.5" height="39.0" rx="19.5" fill="#41a040" stroke="#2a6e2a" stroke-width="2"/>
<rect x="371.0" y="902.0" width="145.0" height="39.0" rx="19.5" fill="#2b82b5" stroke="#12405e" stroke-width="2"/>
<rect x="311.0" y="902.5" width="61.0" height="40.0" rx="20.0" fill="#2b82b5" stroke="#12405e" stroke-width="2"/>
<rect x="136.0" y="1040.0" width="125.0" height="35.5" rx="17.8" fill="#41a040" stroke="#2a6e2a" stroke-width="2"/>
<rect x="270.0" y="1106.0" width="85.0" height="38.5" rx="19.2" fill="#2b82b5" stroke="#12405e" stroke-width="2"/>
<rect x="357.5" y="1107.0" width="160.5" height="38.0" rx="19.0" fill="#2b82b5" stroke="#12405e" stroke-width="2"/>
<rect x="316.5" y="1313.0" width="77.5" height="36.0" rx="18.0" fill="#2b82b5" stroke="#12405e" stroke-width="2"/>
<rect x="393.0" y="1312.5" width="176.5" height="36.5" rx="18.2" fill="#2b82b5" stroke="#12405e" stroke-width="2"/>
<rect x="1174.0" y="865.0" width="116.5" height="33.0" rx="16.5" fill="#e9f0fb" stroke="#8c9dcd" stroke-width="1.6"/>
<rect x="848.0" y="1101.0" width="99.5" height="38.5" rx="19.2" fill="#2b82b5" stroke="#12405e" stroke-width="2"/>
<rect x="948.0" y="1101.0" width="113.0" height="38.5" rx="19.2" fill="#2b82b5" stroke="#12405e" stroke-width="2"/>
<rect x="781.0" y="1282.5" width="96.0" height="38.0" rx="19.0" fill="#2b82b5" stroke="#12405e" stroke-width="2"/>
<rect x="877.5" y="1282.0" width="112.0" height="38.5" rx="19.2" fill="#2b82b5" stroke="#12405e" stroke-width="2"/>
<rect x="644.5" y="1399.0" width="183.0" height="39.0" rx="9.0" fill="#fbe8eb" stroke="#8a2839" stroke-width="1.6"/>
<path d="M564,917 L684.5,917 L684.5,957 L604,972 L567.5,975 Z" fill="#2b82b5" stroke="#12405e" stroke-width="1.8" stroke-linejoin="round"/>
<line x1="648" y1="917.8" x2="648" y2="958" stroke="#c23a4e" stroke-width="1.4"/>
<line x1="655" y1="917.8" x2="655" y2="958" stroke="#c23a4e" stroke-width="1.4"/>
<line x1="661.2" y1="917.8" x2="661.2" y2="958" stroke="#c23a4e" stroke-width="1.4"/>
<line x1="667.6" y1="917.8" x2="667.6" y2="958" stroke="#c23a4e" stroke-width="1.4"/>
<line x1="674" y1="917.8" x2="674" y2="958" stroke="#c23a4e" stroke-width="1.4"/>
<path d="M608.5,957.8 L690.5,955 A19,19.25 0 0 1 690.5,993.5 L614.5,993.5 Q606.5,993.5 601.5,985.5 Q596.5,977.5 599.0,973.5 Q601.5,961 608.5,957.8 Z" fill="#2b82b5" stroke="#12405e" stroke-width="1.8" stroke-linejoin="round"/>
<path d="M915,862 L1035.5,862 L1035.5,902 L955,917 L918.5,920 Z" fill="#2b82b5" stroke="#12405e" stroke-width="1.8" stroke-linejoin="round"/>
<line x1="999" y1="862.8" x2="999" y2="903" stroke="#c23a4e" stroke-width="1.4"/>
<line x1="1006" y1="862.8" x2="1006" y2="903" stroke="#c23a4e" stroke-width="1.4"/>
<line x1="1012.2" y1="862.8" x2="1012.2" y2="903" stroke="#c23a4e" stroke-width="1.4"/>
<line x1="1018.6" y1="862.8" x2="1018.6" y2="903" stroke="#c23a4e" stroke-width="1.4"/>
<line x1="1025" y1="862.8" x2="1025" y2="903" stroke="#c23a4e" stroke-width="1.4"/>
<path d="M959.5,902.8 L1041.5,900 A19,19.25 0 0 1 1041.5,938.5 L965.5,938.5 Q957.5,938.5 952.5,930.5 Q947.5,922.5 950.0,918.5 Q952.5,906 959.5,902.8 Z" fill="#2b82b5" stroke="#12405e" stroke-width="1.8" stroke-linejoin="round"/>
<circle cx="475" cy="976.3" r="15.7" fill="#ecc226" stroke="#5a3912" stroke-width="2.2"/>
<text x="470.7" y="982.1" font-size="27.2" font-weight="bold" fill="#5a3310" textLength="16" lengthAdjust="spacingAndGlyphs">P</text>
<circle cx="657.0" cy="198.2" r="13.4" fill="#f9cfe6" stroke="#8f3a70" stroke-width="1.8"/>
<circle cx="670.0" cy="210.5" r="13.4" fill="#f9cfe6" stroke="#8f3a70" stroke-width="1.8"/>
<circle cx="680.0" cy="227.0" r="13.4" fill="#f9cfe6" stroke="#8f3a70" stroke-width="1.8"/>
<circle cx="693.5" cy="242.8" r="13.4" fill="#f9cfe6" stroke="#8f3a70" stroke-width="1.8"/>
<circle cx="977.5" cy="195.5" r="13.4" fill="#f9cfe6" stroke="#8f3a70" stroke-width="1.8"/>
<circle cx="965.0" cy="209.0" r="13.4" fill="#f9cfe6" stroke="#8f3a70" stroke-width="1.8"/>
<circle cx="954.0" cy="224.0" r="13.4" fill="#f9cfe6" stroke="#8f3a70" stroke-width="1.8"/>
<circle cx="941.0" cy="241.0" r="13.4" fill="#f9cfe6" stroke="#8f3a70" stroke-width="1.8"/>
<circle cx="933.2" cy="345.9" r="12.6" fill="#f9cfe6" stroke="#8f3a70" stroke-width="1.8"/>
<circle cx="917.3" cy="335.2" r="12.6" fill="#f9cfe6" stroke="#8f3a70" stroke-width="1.8"/>
<circle cx="898.5" cy="328.8" r="12.6" fill="#f9cfe6" stroke="#8f3a70" stroke-width="1.8"/>
<circle cx="881.0" cy="317.5" r="12.6" fill="#f9cfe6" stroke="#8f3a70" stroke-width="1.8"/>
<circle cx="1286.5" cy="260.5" r="13.4" fill="#f9cfe6" stroke="#8f3a70" stroke-width="1.8"/>
<circle cx="1274.5" cy="274.0" r="13.4" fill="#f9cfe6" stroke="#8f3a70" stroke-width="1.8"/>
<circle cx="1264.5" cy="289.0" r="13.4" fill="#f9cfe6" stroke="#8f3a70" stroke-width="1.8"/>
<circle cx="1250.5" cy="305.5" r="13.4" fill="#f9cfe6" stroke="#8f3a70" stroke-width="1.8"/>
<circle cx="116.0" cy="422.5" r="13.4" fill="#f9cfe6" stroke="#8f3a70" stroke-width="1.8"/>
<circle cx="129.0" cy="435.0" r="13.4" fill="#f9cfe6" stroke="#8f3a70" stroke-width="1.8"/>
<circle cx="139.0" cy="452.5" r="13.4" fill="#f9cfe6" stroke="#8f3a70" stroke-width="1.8"/>
<circle cx="152.0" cy="467.5" r="13.4" fill="#f9cfe6" stroke="#8f3a70" stroke-width="1.8"/>
<circle cx="529.8" cy="491.2" r="13.4" fill="#f9cfe6" stroke="#8f3a70" stroke-width="1.8"/>
<circle cx="541.8" cy="477.5" r="13.4" fill="#f9cfe6" stroke="#8f3a70" stroke-width="1.8"/>
<circle cx="551.7" cy="460.8" r="13.4" fill="#f9cfe6" stroke="#8f3a70" stroke-width="1.8"/>
<circle cx="565.2" cy="446.0" r="13.4" fill="#f9cfe6" stroke="#8f3a70" stroke-width="1.8"/>
<circle cx="414.0" cy="530.2" r="13.4" fill="#f9cfe6" stroke="#8f3a70" stroke-width="1.8"/>
<circle cx="402.0" cy="542.5" r="13.4" fill="#f9cfe6" stroke="#8f3a70" stroke-width="1.8"/>
<circle cx="392.2" cy="559.5" r="13.4" fill="#f9cfe6" stroke="#8f3a70" stroke-width="1.8"/>
<circle cx="377.8" cy="575.0" r="13.4" fill="#f9cfe6" stroke="#8f3a70" stroke-width="1.8"/>
<circle cx="477.2" cy="672.5" r="13.4" fill="#f9cfe6" stroke="#8f3a70" stroke-width="1.8"/>
<circle cx="464.9" cy="685.3" r="13.4" fill="#f9cfe6" stroke="#8f3a70" stroke-width="1.8"/>
<circle cx="455.2" cy="702.0" r="13.4" fill="#f9cfe6" stroke="#8f3a70" stroke-width="1.8"/>
<circle cx="441.0" cy="718.0" r="13.4" fill="#f9cfe6" stroke="#8f3a70" stroke-width="1.8"/>
<circle cx="116.0" cy="985.0" r="13.4" fill="#f9cfe6" stroke="#8f3a70" stroke-width="1.8"/>
<circle cx="128.0" cy="997.0" r="13.4" fill="#f9cfe6" stroke="#8f3a70" stroke-width="1.8"/>
<circle cx="138.0" cy="1014.0" r="13.4" fill="#f9cfe6" stroke="#8f3a70" stroke-width="1.8"/>
<circle cx="152.0" cy="1029.0" r="13.4" fill="#f9cfe6" stroke="#8f3a70" stroke-width="1.8"/>
<circle cx="1078.0" cy="813.0" r="13.4" fill="#f9cfe6" stroke="#8f3a70" stroke-width="1.8"/>
<circle cx="1065.0" cy="826.0" r="13.4" fill="#f9cfe6" stroke="#8f3a70" stroke-width="1.8"/>
<circle cx="1055.5" cy="843.0" r="13.4" fill="#f9cfe6" stroke="#8f3a70" stroke-width="1.8"/>
<circle cx="1041.0" cy="858.0" r="13.4" fill="#f9cfe6" stroke="#8f3a70" stroke-width="1.8"/>
<path d="M67.0,486.5 L79.6,478.6 A16.6,16.6 0 1 0 79.6,494.4 Z" fill="#6fd4cb" stroke="#3f9d97" stroke-width="1.3" stroke-linejoin="round" transform="rotate(0 65 486.5)"/>
<path d="M484.6,379.0 L497.6,370.8 A17.2,17.2 0 1 0 497.6,387.2 Z" fill="#3c77cc" stroke="#2a569f" stroke-width="1.3" stroke-linejoin="round" transform="rotate(0 482.5 379)"/>
<path d="M407.0,432.5 L419.6,424.6 A16.6,16.6 0 1 0 419.6,440.4 Z" fill="#6fd4cb" stroke="#3f9d97" stroke-width="1.3" stroke-linejoin="round" transform="rotate(0 405 432.5)"/>
<path d="M574.4,690.3 L587.4,682.1 A17.2,17.2 0 1 0 587.4,698.5 Z" fill="#3c77cc" stroke="#2a569f" stroke-width="1.3" stroke-linejoin="round" transform="rotate(0 572.3 690.3)"/>
<path d="M870.3,424.3 L884.7,415.2 A19,19 0 1 0 884.7,433.4 Z" fill="#6fd4cb" stroke="#3f9d97" stroke-width="1.3" stroke-linejoin="round" transform="rotate(0 868 424.3)"/>
<path d="M1047.0,375.0 L1059.6,367.1 A16.6,16.6 0 1 0 1059.6,382.9 Z" fill="#8c4b1f" stroke="#5c2c0c" stroke-width="1.3" stroke-linejoin="round" transform="rotate(0 1045 375)"/>
<path d="M171.0,337.0 L216.6,403.1" stroke="#1c1c1c" stroke-width="2.2" fill="none"/>
<polygon points="222.0,411.0 210.7,404.2 219.7,398.0" fill="#1c1c1c"/>
<path d="M485.0,221.0 L550.3,250.5" stroke="#1c1c1c" stroke-width="2.3" fill="none"/>
<polygon points="559.0,254.5 546.0,254.1 550.1,245.0" fill="#1c1c1c"/>
<path d="M593.0,196.0 L578.2,246.8" stroke="#1c1c1c" stroke-width="2.3" fill="none"/>
<polygon points="575.5,256.0 574.1,243.1 583.7,245.9" fill="#1c1c1c"/>
<path d="M565.0,304.5 L586.8,356.6" stroke="#1c1c1c" stroke-width="2.3" fill="none"/>
<polygon points="590.5,365.5 581.3,356.4 590.5,352.5" fill="#1c1c1c"/>
<path d="M251.0,543.0 L293.3,566.7" stroke="#1c1c1c" stroke-width="2.0" fill="none"/>
<polygon points="301.0,571.0 289.0,570.0 293.8,561.3" fill="#1c1c1c"/>
<path d="M324.0,654.0 L349.6,703.5" stroke="#1c1c1c" stroke-width="2.3" fill="none"/>
<polygon points="354.0,712.0 344.0,703.6 352.9,699.0" fill="#1c1c1c"/>
<path d="M601,466 C588,526 466,585 381,618.3" stroke="#1c1c1c" stroke-width="1.9" fill="none"/>
<polygon points="381.0,618.3 390.3,609.3 394.0,618.6" fill="#1c1c1c"/>
<path d="M775,335 C722,472 602,594 381,630.3" stroke="#1c1c1c" stroke-width="1.9" fill="none"/>
<polygon points="381.0,630.3 392.0,623.4 393.7,633.3" fill="#1c1c1c"/>
<path d="M410.0,809.0 L420.1,872.2" stroke="#1c1c1c" stroke-width="2.8" fill="none"/>
<polygon points="422.0,884.0 412.7,870.3 426.5,868.1" fill="#1c1c1c"/>
<path d="M401,994 Q365,1034 265,1040" stroke="url(#fadeL)" stroke-width="2.0" fill="none"/>
<polygon points="265.0,1040.0 276.7,1034.3 277.3,1044.3" fill="#1c1c1c"/>
<path d="M402,989 Q402,1040 416,1099" stroke="#1c1c1c" stroke-width="2.0" fill="none"/>
<polygon points="416.0,1099.0 408.4,1088.5 418.1,1086.2" fill="#1c1c1c"/>
<path d="M581.0,1009.5 L489.7,1096.7" stroke="#1c1c1c" stroke-width="2.6" fill="none"/>
<polygon points="481.0,1105.0 487.0,1089.6 496.7,1099.7" fill="#1c1c1c"/>
<path d="M419.0,1156.0 L447.1,1293.1" stroke="#1c1c1c" stroke-width="2.0" fill="none" stroke-dasharray="7.5 5.5"/>
<polygon points="449.0,1302.5 441.7,1291.7 451.5,1289.7" fill="#1c1c1c"/>
<path d="M125,1060.5 Q75,1065 56,1116" stroke="#1c1c1c" stroke-width="2.0" fill="none"/>
<polygon points="56.0,1116.0 55.5,1103.0 64.9,1106.5" fill="#1c1c1c"/>
<path d="M1175.5,351 Q1174,430 1155,499.5" stroke="#1c1c1c" stroke-width="2.0" fill="none"/>
<polygon points="1155.0,499.5 1153.3,486.6 1163.0,489.2" fill="#1c1c1c"/>
<path d="M1270,368 C1312,362 1310,332 1272,307" stroke="#1c1c1c" stroke-width="2.0" fill="none"/>
<polygon points="1272.0,307.0 1284.8,309.4 1279.3,317.8" fill="#1c1c1c"/>
<path d="M1300.0,501.0 L1227.3,519.6" stroke="url(#fadeT)" stroke-width="2.0" fill="none"/>
<polygon points="1218.0,522.0 1228.4,514.2 1230.9,523.9" fill="#1c1c1c"/>
<path d="M1152.5,559.0 L1112.2,616.8" stroke="#1c1c1c" stroke-width="2.5" fill="none"/>
<polygon points="1105.8,626.0 1108.9,611.1 1118.7,617.9" fill="#1c1c1c"/>
<path d="M1067,697 Q1038.5,770 994,832" stroke="#1c1c1c" stroke-width="1.8" fill="none"/>
<polygon points="994.0,832.0 996.9,819.3 1005.1,825.2" fill="#1c1c1c"/>
<path d="M1051,886 Q1165,895 1275,950.5" stroke="#1c1c1c" stroke-width="2.0" fill="none"/>
<polygon points="1275.0,950.5 1262.0,949.6 1266.5,940.6" fill="#1c1c1c"/>
<path d="M1002,946 Q1000,1010 987.5,1075" stroke="#1c1c1c" stroke-width="2.0" fill="none"/>
<polygon points="987.5,1075.0 984.9,1062.3 994.7,1064.2" fill="#1c1c1c"/>
<path d="M975.5,1140.0 L945.3,1259.7" stroke="#1c1c1c" stroke-width="2.0" fill="none" stroke-dasharray="7.5 5.5"/>
<polygon points="943.0,1269.0 941.1,1256.1 950.8,1258.6" fill="#1c1c1c"/>
<path d="M160,541 C138,538 130,520 141,504" stroke="url(#fadeC)" stroke-width="4" fill="none"/>
<polygon points="148.0,494.0 145.9,508.4 135.2,500.9" fill="#1c1c1c"/>
<path d="M413,1379 V1419 H620" stroke="#1f3f96" stroke-width="5" fill="none"/>
<polygon points="637.5,1419.0 617.5,1429.0 617.5,1409.0" fill="#1f3f96"/>
<path d="M984,1360 V1420 H853" stroke="#1f3f96" stroke-width="5" fill="none"/>
<polygon points="836.0,1420.0 856.0,1410.0 856.0,1430.0" fill="#1f3f96"/>
<path d="M85.0,482.0 L115.5,460.0 M119.0,464.9 L112.0,455.1" stroke="#1c1c1c" stroke-width="2.1" fill="none"/>
<path d="M492.5,396.0 L527.0,459.0 M521.7,461.9 L532.3,456.1" stroke="#1c1c1c" stroke-width="2.1" fill="none"/>
<path d="M409.5,460.0 L415.0,509.5 M408.5,510.2 L421.5,508.8" stroke="#1c1c1c" stroke-width="2.1" fill="none"/>
<path d="M556.4,688.8 L495.4,679.8 M496.3,673.9 L494.5,685.7" stroke="#1c1c1c" stroke-width="2.1" fill="none"/>
<path d="M884.5,404.5 L907.0,361.0 M915.4,365.4 L898.6,356.6" stroke="#1c1c1c" stroke-width="3.2" fill="none"/>
<path d="M1062.5,374.5 L1090.0,352.0 M1094.1,357.0 L1085.9,347.0" stroke="#1c1c1c" stroke-width="2.1" fill="none"/>
<g transform="translate(20,1110) scale(0.12355)" fill="#c9ede9" stroke="#2b5c52" stroke-width="14" stroke-linejoin="round">
<path d="M400,185 C330,150 170,190 160,310 C160,430 320,480 420,440 C430,400 370,370 375,300 C380,240 420,210 400,185 Z"/>
<path d="M465,310 C440,260 490,200 560,190 C620,175 690,190 700,240 C705,280 670,295 630,285 C580,280 560,330 510,330 C480,330 470,325 465,310 Z"/>
<path d="M475,440 C470,400 520,385 560,380 C590,370 600,340 630,345 C665,355 675,400 668,435 C655,470 600,465 560,465 C520,465 480,470 475,440 Z"/>
<path d="M750,270 C745,225 800,190 850,185 C900,180 930,215 920,245 C905,275 860,265 830,275 C800,290 760,300 750,270 Z"/>
<path d="M730,410 C740,385 800,385 830,350 C855,320 890,325 905,350 C920,380 920,415 890,428 C850,440 790,435 760,432 C740,430 725,425 730,410 Z"/>
<path d="M1010,200 C1060,150 1170,170 1195,260 C1215,340 1170,440 1090,468 C1040,480 975,465 965,425 C960,390 1015,370 1015,310 C1015,250 990,225 1010,200 Z"/>
</g>
<g transform="translate(1245,956.7) scale(0.11610)" fill="#c9ede9" stroke="#2b5c52" stroke-width="14" stroke-linejoin="round">
<path d="M400,185 C330,150 170,190 160,310 C160,430 320,480 420,440 C430,400 370,370 375,300 C380,240 420,210 400,185 Z"/>
<path d="M465,310 C440,260 490,200 560,190 C620,175 690,190 700,240 C705,280 670,295 630,285 C580,280 560,330 510,330 C480,330 470,325 465,310 Z"/>
<path d="M475,440 C470,400 520,385 560,380 C590,370 600,340 630,345 C665,355 675,400 668,435 C655,470 600,465 560,465 C520,465 480,470 475,440 Z"/>
<path d="M750,270 C745,225 800,190 850,185 C900,180 930,215 920,245 C905,275 860,265 830,275 C800,290 760,300 750,270 Z"/>
<path d="M730,410 C740,385 800,385 830,350 C855,320 890,325 905,350 C920,380 920,415 890,428 C850,440 790,435 760,432 C740,430 725,425 730,410 Z"/>
<path d="M1010,200 C1060,150 1170,170 1195,260 C1215,340 1170,440 1090,468 C1040,480 975,465 965,425 C960,390 1015,370 1015,310 C1015,250 990,225 1010,200 Z"/>
</g>
<text x="298.0" y="59.9" font-size="27.2" font-weight="bold" fill="#111" stroke="#111" stroke-width="0.3" textLength="359.5" lengthAdjust="spacingAndGlyphs">Canonical NF-κB pathways</text>
<text x="984.0" y="67.0" font-size="27.2" font-weight="bold" fill="#111" stroke="#111" stroke-width="0.3" textLength="409.0" lengthAdjust="spacingAndGlyphs">Noncanonical NF-κB pathways</text>
<text x="171.5" y="215.5" font-size="27" font-weight="normal" fill="#1c1c1c" stroke="#1c1c1c" stroke-width="0.3" textLength="49.5" lengthAdjust="spacingAndGlyphs">TCR</text>
<g clip-path="url(#cTLR)"><g transform="rotate(-7.5 503 141.2)">
<text x="503.0" y="141.2" font-size="26" font-weight="normal" fill="#1c1c1c" stroke="#1c1c1c" stroke-width="0.3" textLength="50.6" lengthAdjust="spacingAndGlyphs">TLR</text>
</g></g>
<text x="602.0" y="124.7" font-size="27" font-weight="normal" fill="#1c1c1c" stroke="#1c1c1c" stroke-width="0.3" textLength="60.5" lengthAdjust="spacingAndGlyphs">IL1-R</text>
<text x="791.0" y="121.8" font-size="27" font-weight="normal" fill="#1c1c1c" stroke="#1c1c1c" stroke-width="0.3" textLength="67.0" lengthAdjust="spacingAndGlyphs">TNFR</text>
<g clip-path="url(#cLTR)">
<text x="1275.5" y="151.5" font-size="27" font-weight="normal" fill="#1c1c1c" stroke="#1c1c1c" stroke-width="0.3" textLength="141.7" lengthAdjust="spacingAndGlyphs">LTR, RANKL</text>
<text x="1275.5" y="175.3" font-size="27" font-weight="normal" fill="#1c1c1c" stroke="#1c1c1c" stroke-width="0.3" textLength="157.5" lengthAdjust="spacingAndGlyphs">CD40L, BAFF</text>
</g>
<text x="643.8" y="184.5" font-size="27" font-weight="normal" fill="#1c1c1c" stroke="#1c1c1c" stroke-width="0.3" textLength="31.7" lengthAdjust="spacingAndGlyphs">Ub</text>
<text x="941.5" y="183.0" font-size="27" font-weight="normal" fill="#1c1c1c" stroke="#1c1c1c" stroke-width="0.3" textLength="32.0" lengthAdjust="spacingAndGlyphs">Ub</text>
<text x="1300.5" y="280.5" font-size="27" font-weight="normal" fill="#1c1c1c" stroke="#1c1c1c" stroke-width="0.3" textLength="31.5" lengthAdjust="spacingAndGlyphs">Ub</text>
<text x="102.5" y="409.5" font-size="27" font-weight="normal" fill="#1c1c1c" stroke="#1c1c1c" stroke-width="0.3" textLength="32.5" lengthAdjust="spacingAndGlyphs">Ub</text>
<text x="480.5" y="498.0" font-size="27" font-weight="normal" fill="#1c1c1c" stroke="#1c1c1c" stroke-width="0.3" textLength="30.5" lengthAdjust="spacingAndGlyphs">Ub</text>
<text x="429.0" y="539.5" font-size="27" font-weight="normal" fill="#1c1c1c" stroke="#1c1c1c" stroke-width="0.3" textLength="31.0" lengthAdjust="spacingAndGlyphs">Ub</text>
<text x="441.5" y="658.0" font-size="27" font-weight="normal" fill="#1c1c1c" stroke="#1c1c1c" stroke-width="0.3" textLength="32.0" lengthAdjust="spacingAndGlyphs">Ub</text>
<text x="102.5" y="971.5" font-size="27" font-weight="normal" fill="#1c1c1c" stroke="#1c1c1c" stroke-width="0.3" textLength="32.5" lengthAdjust="spacingAndGlyphs">Ub</text>
<text x="1041.5" y="799.5" font-size="27" font-weight="normal" fill="#1c1c1c" stroke="#1c1c1c" stroke-width="0.3" textLength="32.5" lengthAdjust="spacingAndGlyphs">Ub</text>
<text x="225.0" y="365.5" font-size="27" font-weight="normal" fill="#1c1c1c" stroke="#1c1c1c" stroke-width="0.3" textLength="73.5" lengthAdjust="spacingAndGlyphs">PKC-θ</text>
<text x="204.5" y="443.5" font-size="27" font-weight="normal" fill="#1c1c1c" stroke="#1c1c1c" stroke-width="0.3" textLength="107.5" lengthAdjust="spacingAndGlyphs">CARMA1</text>
<text x="174.0" y="490.5" font-size="27" font-weight="normal" fill="#1c1c1c" stroke="#1c1c1c" stroke-width="0.3" textLength="66.5" lengthAdjust="spacingAndGlyphs">Bcl10</text>
<text x="260.0" y="491.5" font-size="27" font-weight="normal" fill="#1c1c1c" stroke="#1c1c1c" stroke-width="0.3" textLength="80.0" lengthAdjust="spacingAndGlyphs">MALT1</text>
<text x="185.0" y="540.0" font-size="27" font-weight="normal" fill="#fdf6f0" stroke="#fdf6f0" stroke-width="0.3" textLength="78.0" lengthAdjust="spacingAndGlyphs">TRAF6</text>
<text x="47.0" y="532.5" font-size="27" font-weight="normal" fill="#1c1c1c" stroke="#1c1c1c" stroke-width="0.3" textLength="47.5" lengthAdjust="spacingAndGlyphs">A20</text>
<text x="252.0" y="606.5" font-size="27" font-weight="normal" fill="#1c1c1c" stroke="#1c1c1c" stroke-width="0.3" textLength="91.0" lengthAdjust="spacingAndGlyphs">TAB2/3</text>
<rect x="243.5" y="608.5" width="107.0" height="43.5" rx="21.8" fill="#dbebf8" stroke="#27628f" stroke-width="3"/>
<text x="267.0" y="640.5" font-size="27" font-weight="normal" fill="#1c1c1c" stroke="#1c1c1c" stroke-width="0.3" textLength="61.5" lengthAdjust="spacingAndGlyphs">TAK1</text>
<text x="455.0" y="355.5" font-size="27" font-weight="normal" fill="#1c1c1c" stroke="#1c1c1c" stroke-width="0.3" textLength="65.0" lengthAdjust="spacingAndGlyphs">CYLD</text>
<text x="545.5" y="399.5" font-size="27" font-weight="normal" fill="#1c1c1c" stroke="#1c1c1c" stroke-width="0.3" textLength="100.5" lengthAdjust="spacingAndGlyphs">IRAK1/4</text>
<text x="594.0" y="446.5" font-size="27" font-weight="normal" fill="#fdf6f0" stroke="#fdf6f0" stroke-width="0.3" textLength="78.0" lengthAdjust="spacingAndGlyphs">TRAF6</text>
<text x="382.5" y="410.0" font-size="27" font-weight="normal" fill="#1c1c1c" stroke="#1c1c1c" stroke-width="0.3" textLength="47.0" lengthAdjust="spacingAndGlyphs">A20</text>
<text x="528.5" y="292.3" font-size="27" font-weight="normal" fill="#1c1c1c" stroke="#1c1c1c" stroke-width="0.3" textLength="84.0" lengthAdjust="spacingAndGlyphs">MyD88</text>
<text x="764.0" y="234.5" font-size="27" font-weight="normal" fill="#1c1c1c" stroke="#1c1c1c" stroke-width="0.3" textLength="89.0" lengthAdjust="spacingAndGlyphs">TRADD</text>
<text x="692.5" y="277.3" font-size="27" font-weight="normal" fill="#1c1c1c" stroke="#1c1c1c" stroke-width="0.3" textLength="103.0" lengthAdjust="spacingAndGlyphs">cIAP1/2</text>
<text x="824.0" y="276.5" font-size="27" font-weight="normal" fill="#fdf6f0" stroke="#fdf6f0" stroke-width="0.3" textLength="112.0" lengthAdjust="spacingAndGlyphs">TRAF2/5</text>
<text x="789.5" y="321.5" font-size="27" font-weight="normal" fill="#1c1c1c" stroke="#1c1c1c" stroke-width="0.3" textLength="42.5" lengthAdjust="spacingAndGlyphs">RIP</text>
<text x="848.5" y="470.5" font-size="27" font-weight="normal" fill="#1c1c1c" stroke="#1c1c1c" stroke-width="0.3" textLength="47.0" lengthAdjust="spacingAndGlyphs">A20</text>
<text x="1013.0" y="416.0" font-size="27" font-weight="normal" fill="#1c1c1c" stroke="#1c1c1c" stroke-width="0.3" textLength="101.0" lengthAdjust="spacingAndGlyphs">OTUD7B</text>
<text x="1126.0" y="328.0" font-size="25.5" font-weight="normal" fill="#fdf6f0" stroke="#fdf6f0" stroke-width="0.3" textLength="106.0" lengthAdjust="spacingAndGlyphs">TRAF2/3</text>
<text x="1195.0" y="376.5" font-size="27" font-weight="normal" fill="#1c1c1c" stroke="#1c1c1c" stroke-width="0.3" textLength="54.5" lengthAdjust="spacingAndGlyphs">cIAP</text>
<text x="1134.0" y="536.5" font-size="27" font-weight="normal" fill="#1c1c1c" stroke="#1c1c1c" stroke-width="0.3" textLength="46.0" lengthAdjust="spacingAndGlyphs">NIK</text>
<text x="1326.0" y="498.0" font-size="27" font-weight="normal" fill="#1c1c1c" stroke="#1c1c1c" stroke-width="0.3" textLength="62.5" lengthAdjust="spacingAndGlyphs">TBK1</text>
<text x="1047.0" y="675.5" font-size="27" font-weight="normal" fill="#1c1c1c" stroke="#1c1c1c" stroke-width="0.3" textLength="55.5" lengthAdjust="spacingAndGlyphs">IKKα</text>
<text x="1113.0" y="671.3" font-size="27" font-weight="normal" fill="#1c1c1c" stroke="#1c1c1c" stroke-width="0.3" textLength="56.0" lengthAdjust="spacingAndGlyphs">IKKα</text>
<text x="367.5" y="744.0" font-size="27" font-weight="normal" fill="#1c1c1c" stroke="#1c1c1c" stroke-width="0.3" textLength="54.0" lengthAdjust="spacingAndGlyphs">IKKγ</text>
<text x="327.5" y="791.5" font-size="27" font-weight="normal" fill="#1c1c1c" stroke="#1c1c1c" stroke-width="0.3" textLength="55.5" lengthAdjust="spacingAndGlyphs">IKKα</text>
<text x="405.0" y="783.0" font-size="27" font-weight="normal" fill="#1c1c1c" stroke="#1c1c1c" stroke-width="0.3" textLength="51.5" lengthAdjust="spacingAndGlyphs">IKKβ</text>
<text x="556.0" y="732.5" font-size="27" font-weight="normal" fill="#1c1c1c" stroke="#1c1c1c" stroke-width="0.3" textLength="64.5" lengthAdjust="spacingAndGlyphs">CYLD</text>
<text x="318.0" y="931.5" font-size="27" font-weight="normal" fill="#e6f6ff" stroke="#e6f6ff" stroke-width="0.3" textLength="46.5" lengthAdjust="spacingAndGlyphs">P50</text>
<text x="380.0" y="931.5" font-size="27" font-weight="normal" fill="#e6f6ff" stroke="#e6f6ff" stroke-width="0.3" textLength="115.5" lengthAdjust="spacingAndGlyphs">p65/c-Rel</text>
<text x="382.5" y="968.0" font-size="27" font-weight="normal" fill="#e6ffe2" stroke="#e6ffe2" stroke-width="0.3" textLength="54.0" lengthAdjust="spacingAndGlyphs">IκBα</text>
<text x="575.0" y="948.5" font-size="27" font-weight="normal" fill="#10283c" stroke="#10283c" stroke-width="0.3" textLength="62.5" lengthAdjust="spacingAndGlyphs">P105</text>
<text x="630.0" y="982.5" font-size="27" font-weight="normal" fill="#e6f6ff" stroke="#e6f6ff" stroke-width="0.3" textLength="54.5" lengthAdjust="spacingAndGlyphs">RelA</text>
<text x="182.0" y="1066.0" font-size="27" font-weight="normal" fill="#e6ffe2" stroke="#e6ffe2" stroke-width="0.3" textLength="54.0" lengthAdjust="spacingAndGlyphs">IκBα</text>
<text x="34.0" y="1199.5" font-size="26.3" font-weight="normal" fill="#1c1c1c" stroke="#1c1c1c" stroke-width="0.3" textLength="144.5" lengthAdjust="spacingAndGlyphs">proteasome</text>
<text x="294.5" y="1135.0" font-size="27" font-weight="normal" fill="#e6f6ff" stroke="#e6f6ff" stroke-width="0.3" textLength="46.5" lengthAdjust="spacingAndGlyphs">P50</text>
<text x="387.0" y="1135.0" font-size="27" font-weight="normal" fill="#e6f6ff" stroke="#e6f6ff" stroke-width="0.3" textLength="116.0" lengthAdjust="spacingAndGlyphs">p65/c-Rel</text>
<text x="336.0" y="1340.5" font-size="27" font-weight="normal" fill="#e6f6ff" stroke="#e6f6ff" stroke-width="0.3" textLength="46.5" lengthAdjust="spacingAndGlyphs">P50</text>
<text x="429.5" y="1340.0" font-size="27" font-weight="normal" fill="#e6f6ff" stroke="#e6f6ff" stroke-width="0.3" textLength="116.0" lengthAdjust="spacingAndGlyphs">p65/c-Rel</text>
<text x="927.0" y="894.5" font-size="27" font-weight="normal" fill="#10283c" stroke="#10283c" stroke-width="0.3" textLength="62.5" lengthAdjust="spacingAndGlyphs">P100</text>
<text x="981.0" y="928.0" font-size="27" font-weight="normal" fill="#e6f6ff" stroke="#e6f6ff" stroke-width="0.3" textLength="54.5" lengthAdjust="spacingAndGlyphs">RelB</text>
<text x="1199.5" y="890.5" font-size="27" font-weight="normal" fill="#1c1c1c" stroke="#1c1c1c" stroke-width="0.3" textLength="76.0" lengthAdjust="spacingAndGlyphs">β-Trcp</text>
<text x="1260.0" y="1039.5" font-size="26.3" font-weight="normal" fill="#1c1c1c" stroke="#1c1c1c" stroke-width="0.3" textLength="145.0" lengthAdjust="spacingAndGlyphs">proteasome</text>
<text x="879.5" y="1130.0" font-size="27" font-weight="normal" fill="#e6f6ff" stroke="#e6f6ff" stroke-width="0.3" textLength="46.5" lengthAdjust="spacingAndGlyphs">P52</text>
<text x="982.0" y="1130.0" font-size="27" font-weight="normal" fill="#e6f6ff" stroke="#e6f6ff" stroke-width="0.3" textLength="53.5" lengthAdjust="spacingAndGlyphs">RelB</text>
<text x="813.0" y="1310.0" font-size="27" font-weight="normal" fill="#e6f6ff" stroke="#e6f6ff" stroke-width="0.3" textLength="46.5" lengthAdjust="spacingAndGlyphs">P52</text>
<text x="915.0" y="1310.0" font-size="27" font-weight="normal" fill="#e6f6ff" stroke="#e6f6ff" stroke-width="0.3" textLength="53.0" lengthAdjust="spacingAndGlyphs">RelB</text>
<text x="667.5" y="1428.5" font-size="26.5" font-weight="bold" fill="#111" stroke="#111" stroke-width="0.3" textLength="147.5" lengthAdjust="spacingAndGlyphs">Target Gene</text>
<text x="1209" y="1411.8" font-family="'Liberation Sans', 'Noto Sans CJK SC', sans-serif" font-weight="500" font-size="40.5" textLength="233" lengthAdjust="spacingAndGlyphs" fill="#8f8185" opacity="0.95">知乎 @陶术</text>
<text x="1207" y="1409.8" font-family="'Liberation Sans', 'Noto Sans CJK SC', sans-serif" font-weight="500" font-size="40.5" textLength="233" lengthAdjust="spacingAndGlyphs" fill="#ffffff" stroke="#ffffff" stroke-width="0.25">知乎 @陶术</text>
</g>
</svg>
</body></html>
